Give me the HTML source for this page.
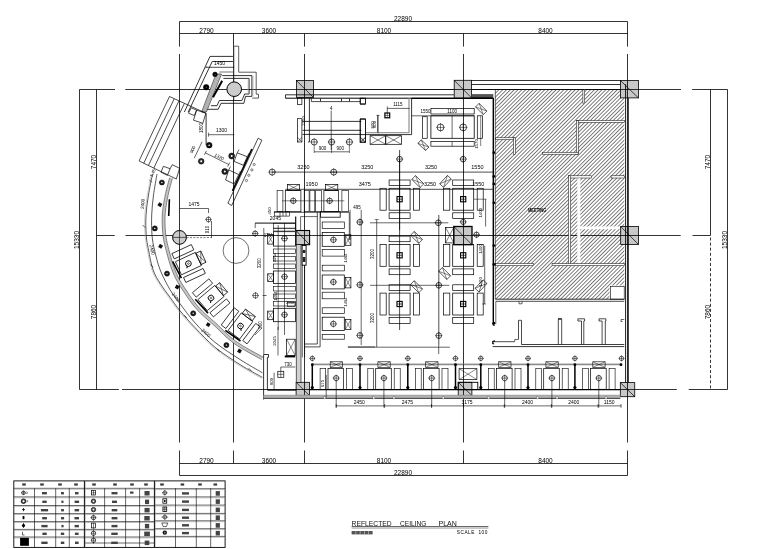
<!DOCTYPE html>
<html><head><meta charset="utf-8"><style>
html,body{margin:0;padding:0;background:#fff;width:760px;height:549px;overflow:hidden}
svg{display:block;filter:grayscale(100%)}
text{font-family:"Liberation Sans",sans-serif}
</style></head><body>
<svg width="760" height="549" viewBox="0 0 760 549">
<defs>
<pattern id="hatch" patternUnits="userSpaceOnUse" width="2.7" height="2.7" patternTransform="rotate(45)">
<line x1="0" y1="0" x2="0" y2="2.7" stroke="#000" stroke-width="1.0"/>
</pattern>
</defs>
<rect width="760" height="549" fill="#fff"/>
<path d="M495.3,89.5 L624.3,89.5 L624.3,285.5 L609.5,285.5 L609.5,299.2 L495.3,299.2 Z" fill="url(#hatch)" stroke="none"/>
<rect x="296.4" y="80.5" width="17.10" height="17.00" fill="#c8c8c8" stroke="#000" stroke-width="0.8"/>
<line x1="296.4" y1="80.5" x2="313.5" y2="97.5" stroke="#000" stroke-width="0.7" />
<rect x="454.2" y="80.3" width="17.40" height="17.70" fill="#c8c8c8" stroke="#000" stroke-width="0.8"/>
<line x1="454.2" y1="80.3" x2="471.6" y2="98" stroke="#000" stroke-width="0.7" />
<rect x="620.4" y="80.5" width="18.00" height="17.40" fill="#c8c8c8" stroke="#000" stroke-width="0.8"/>
<line x1="620.4" y1="80.5" x2="638.4" y2="97.9" stroke="#000" stroke-width="0.7" />
<rect x="296" y="230.5" width="13.60" height="14.20" fill="#c8c8c8" stroke="#000" stroke-width="1.1"/>
<line x1="296" y1="230.5" x2="309.6" y2="244.7" stroke="#000" stroke-width="0.7" />
<rect x="453.8" y="226.5" width="18.20" height="18.20" fill="#c8c8c8" stroke="#000" stroke-width="1.3"/>
<line x1="453.8" y1="226.5" x2="472" y2="244.7" stroke="#000" stroke-width="0.7" />
<rect x="620.7" y="226.5" width="17.80" height="18.00" fill="#c8c8c8" stroke="#000" stroke-width="0.8"/>
<line x1="620.7" y1="226.5" x2="638.5" y2="244.5" stroke="#000" stroke-width="0.7" />
<rect x="296.1" y="382.3" width="13.40" height="13.40" fill="#c8c8c8" stroke="#000" stroke-width="0.8"/>
<line x1="296.1" y1="382.3" x2="309.5" y2="395.7" stroke="#000" stroke-width="0.7" />
<rect x="458.2" y="382.3" width="13.70" height="13.20" fill="#c8c8c8" stroke="#000" stroke-width="0.8"/>
<line x1="458.2" y1="382.3" x2="471.9" y2="395.5" stroke="#000" stroke-width="0.7" />
<rect x="458.2" y="382.3" width="19.6" height="7.3" fill="none" stroke="#000" stroke-width="0.9"/>
<rect x="620.3" y="382.6" width="14.45" height="14.10" fill="#c8c8c8" stroke="#000" stroke-width="0.8"/>
<line x1="620.3" y1="382.6" x2="634.75" y2="396.7" stroke="#000" stroke-width="0.7" />
<line x1="179.5" y1="21.5" x2="179.5" y2="46.6" stroke="#000" stroke-width="0.8" />
<line x1="179.5" y1="54" x2="179.5" y2="442.5" stroke="#000" stroke-width="0.8" />
<line x1="179.5" y1="450.5" x2="179.5" y2="475.5" stroke="#000" stroke-width="0.8" />
<line x1="233.5" y1="33.5" x2="233.5" y2="442.5" stroke="#000" stroke-width="0.8" />
<line x1="233.5" y1="450.5" x2="233.5" y2="463.5" stroke="#000" stroke-width="0.8" />
<line x1="304.5" y1="33.5" x2="304.5" y2="46.6" stroke="#000" stroke-width="0.8" />
<line x1="304.5" y1="54" x2="304.5" y2="442.5" stroke="#000" stroke-width="0.8" />
<line x1="304.5" y1="450.5" x2="304.5" y2="463.5" stroke="#000" stroke-width="0.8" />
<line x1="463.5" y1="33.5" x2="463.5" y2="46.6" stroke="#000" stroke-width="0.8" />
<line x1="463.5" y1="54" x2="463.5" y2="442.5" stroke="#000" stroke-width="0.8" />
<line x1="463.5" y1="450.5" x2="463.5" y2="463.5" stroke="#000" stroke-width="0.8" />
<line x1="627.5" y1="21.5" x2="627.5" y2="46.6" stroke="#000" stroke-width="0.8" />
<line x1="627.5" y1="54" x2="627.5" y2="442.5" stroke="#000" stroke-width="0.8" />
<line x1="627.5" y1="450.5" x2="627.5" y2="475.5" stroke="#000" stroke-width="0.8" />
<line x1="79.5" y1="89.5" x2="115" y2="89.5" stroke="#000" stroke-width="0.8" />
<line x1="125.3" y1="89.5" x2="681" y2="89.5" stroke="#000" stroke-width="0.8" />
<line x1="692.1" y1="89.5" x2="727.5" y2="89.5" stroke="#000" stroke-width="0.8" />
<line x1="96.5" y1="235.5" x2="114.7" y2="235.5" stroke="#000" stroke-width="0.8" />
<line x1="125.5" y1="235.5" x2="680.7" y2="235.5" stroke="#000" stroke-width="0.8" />
<line x1="692.5" y1="235.5" x2="710.5" y2="235.5" stroke="#000" stroke-width="0.8" />
<line x1="79.5" y1="389.5" x2="118.9" y2="389.5" stroke="#000" stroke-width="0.8" />
<line x1="122" y1="389.5" x2="676.8" y2="389.5" stroke="#000" stroke-width="0.8" />
<line x1="688.7" y1="389.5" x2="727.5" y2="389.5" stroke="#000" stroke-width="0.8" />
<line x1="179.5" y1="21.5" x2="627.5" y2="21.5" stroke="#000" stroke-width="0.8" />
<line x1="179.5" y1="33.5" x2="627.5" y2="33.5" stroke="#000" stroke-width="0.8" />
<line x1="179.5" y1="463.5" x2="627.5" y2="463.5" stroke="#000" stroke-width="0.8" />
<line x1="179.5" y1="475.5" x2="627.5" y2="475.5" stroke="#000" stroke-width="0.8" />
<line x1="79.5" y1="89.5" x2="79.5" y2="389.5" stroke="#000" stroke-width="0.8" />
<line x1="96.5" y1="89.5" x2="96.5" y2="389.5" stroke="#000" stroke-width="0.8" />
<line x1="727.5" y1="89.5" x2="727.5" y2="389.5" stroke="#000" stroke-width="0.8" />
<line x1="710.5" y1="89.5" x2="710.5" y2="235.5" stroke="#000" stroke-width="0.8" />
<line x1="710.5" y1="237.5" x2="710.5" y2="389.5" stroke="#000" stroke-width="0.8" stroke-dasharray="3,2.1"/>
<text x="206.5" y="32.8" font-size="6.5" text-anchor="middle" fill="#000" >2790</text>
<text x="269" y="32.8" font-size="6.5" text-anchor="middle" fill="#000" >3600</text>
<text x="384" y="32.8" font-size="6.5" text-anchor="middle" fill="#000" >8100</text>
<text x="545.5" y="32.8" font-size="6.5" text-anchor="middle" fill="#000" >8400</text>
<text x="206.5" y="462.5" font-size="6.5" text-anchor="middle" fill="#000" >2790</text>
<text x="269" y="462.5" font-size="6.5" text-anchor="middle" fill="#000" >3600</text>
<text x="384" y="462.5" font-size="6.5" text-anchor="middle" fill="#000" >8100</text>
<text x="545.5" y="462.5" font-size="6.5" text-anchor="middle" fill="#000" >8400</text>
<text x="403" y="20.5" font-size="6.5" text-anchor="middle" fill="#000" >22890</text>
<text x="403" y="474.5" font-size="6.5" text-anchor="middle" fill="#000" >22890</text>
<text x="95.8" y="162" font-size="6.5" text-anchor="middle" fill="#000" transform="rotate(-90 95.8 162)" >7470</text>
<text x="78.9" y="240" font-size="6.5" text-anchor="middle" fill="#000" transform="rotate(-90 78.9 240)" >15330</text>
<text x="95.8" y="312" font-size="6.5" text-anchor="middle" fill="#000" transform="rotate(-90 95.8 312)" >7860</text>
<text x="710.1" y="162" font-size="6.5" text-anchor="middle" fill="#000" transform="rotate(-90 710.1 162)" >7470</text>
<text x="727.0" y="240" font-size="6.5" text-anchor="middle" fill="#000" transform="rotate(-90 727.0 240)" >15330</text>
<text x="710.1" y="312" font-size="6.5" text-anchor="middle" fill="#000" transform="rotate(-90 710.1 312)" >7860</text>
<polyline points="233.9,46.2 238.7,46.2 238.7,72.2 256.2,72.2 256.2,94.2 258.5,94.2 258.5,98.1 252.3,98.1" fill="none" stroke="#333" stroke-width="0.8"/>
<line x1="234.6" y1="46.5" x2="234.6" y2="100" stroke="#999" stroke-width="0.5" />
<rect x="219.4" y="71.2" width="13.6" height="1.6" fill="#aaa"/>
<polyline points="222.2,75.6 251.9,75.6 251.9,96.4 245.5,96.4 243.9,103.3 221,103.3 218.2,109.3 205,109.3" fill="none" stroke="#000" stroke-width="0.8"/>
<line x1="253" y1="75.6" x2="253" y2="96.4" stroke="#999" stroke-width="0.6" />
<polyline points="223.4,78.4 249.1,78.4 249.1,94 244.7,94 241.9,100.5 219.4,100.5 217,105.7 211,105.7" fill="none" stroke="#000" stroke-width="0.8"/>
<line x1="248.2" y1="78.4" x2="248.2" y2="94" stroke="#999" stroke-width="0.6" />
<circle cx="234.2" cy="89.2" r="7.3" fill="#ccc" stroke="#000" stroke-width="1"/>
<polygon points="216,74 221.5,74 206.4,112 201.6,112" fill="#d4d4d4" stroke="#000" stroke-width="0.55"/>
<polyline points="217.375,74 202.79999999999998,112" fill="none" stroke="#555" stroke-width="0.35"/>
<polyline points="218.75,74 204.0,112" fill="none" stroke="#555" stroke-width="0.35"/>
<polyline points="220.125,74 205.2,112" fill="none" stroke="#555" stroke-width="0.35"/>
<line x1="222.2" y1="80.8" x2="213" y2="97.2" stroke="#000" stroke-width="2" />
<circle cx="215" cy="74.4" r="2.3" fill="#000" stroke="#000" stroke-width="0.5"/>
<circle cx="206.2" cy="87.2" r="2.8" fill="#000" stroke="#000" stroke-width="0.5"/>
<circle cx="215" cy="74.4" r="0.35" fill="#fff"/><circle cx="206.2" cy="87.2" r="0.4" fill="#fff"/>
<polyline points="232.9,56.4 210,56.4 184.4,112" fill="none" stroke="#000" stroke-width="0.8"/>
<polyline points="232.9,61.5 212.2,61.5 188.2,112" fill="none" stroke="#000" stroke-width="0.8"/>
<line x1="206.2" y1="67.3" x2="234.2" y2="67.3" stroke="#000" stroke-width="0.7" />
<line x1="205.4" y1="68.3" x2="207" y2="66.3" stroke="#000" stroke-width="0.6" />
<text x="219.5" y="64.8" font-size="5" text-anchor="middle" fill="#000" >1450</text>
<path d="M152.50,174.00 C151.83,177.50 149.58,188.17 148.50,195.00 C147.42,201.83 146.38,208.33 146.00,215.00 C145.62,221.67 145.78,229.17 146.20,235.00 C146.62,240.83 147.35,244.17 148.50,250.00 C149.65,255.83 151.10,264.33 153.10,270.00 C155.10,275.67 157.68,279.45 160.50,284.00 C163.32,288.55 166.75,292.83 170.00,297.30 C173.25,301.77 175.83,305.75 180.00,310.80 C184.17,315.85 189.17,321.52 195.00,327.60 C200.83,333.68 207.50,341.13 215.00,347.30 C222.50,353.47 232.10,359.58 240.00,364.60 C247.90,369.62 258.67,375.27 262.40,377.40" fill="none" stroke="#222" stroke-width="0.75"/>
<path d="M151.42,173.79 L151.10,175.41 L150.67,177.58 L150.15,180.17 L149.58,183.04 L148.99,186.07 L148.41,189.13 L147.87,192.09 L147.41,194.82 L147.01,197.38 L146.62,199.91 L146.25,202.42 L145.90,204.92 L145.58,207.41 L145.31,209.91 L145.08,212.42 L144.90,214.94 L144.78,217.49 L144.71,220.10 L144.68,222.72 L144.70,225.33 L144.75,227.90 L144.84,230.40 L144.96,232.80 L145.10,235.08 L145.28,237.18 L145.48,239.11 L145.72,240.93 L145.99,242.68 L146.29,244.43 L146.63,246.22 L147.01,248.13 L147.42,250.21 L147.87,252.51 L148.34,255.00 L148.86,257.61 L149.41,260.29 L150.00,262.97 L150.63,265.58 L151.32,268.07 L152.06,270.36 L152.86,272.46 L153.71,274.40 L154.60,276.22 L155.53,277.96 L156.50,279.63 L157.50,281.27 L158.52,282.91 L159.57,284.59 L160.66,286.30 L161.81,287.99 L162.99,289.67 L164.20,291.33 L165.43,292.99 L166.66,294.64 L167.89,296.29 L169.11,297.95 L170.30,299.60 L171.45,301.22 L172.60,302.84 L173.76,304.47 L174.98,306.14 L176.26,307.86 L177.65,309.64 L179.15,311.50 L180.76,313.43 L182.45,315.42 L184.21,317.45 L186.05,319.54 L187.97,321.68 L189.97,323.87 L192.05,326.09 L194.20,328.36 L196.43,330.70 L198.73,333.13 L201.12,335.64 L203.59,338.19 L206.14,340.75 L208.78,343.28 L211.50,345.76 L214.30,348.15 L217.23,350.48 L220.31,352.79 L223.49,355.06 L226.73,357.29 L229.99,359.47 L233.22,361.57 L236.37,363.60 L239.42,365.53 L242.51,367.44 L245.75,369.37 L249.03,371.25 L252.23,373.04 L255.22,374.70 L257.91,376.17 L260.16,377.41 L261.86,378.36" fill="none" stroke="#999" stroke-width="0.5"/>
<path d="M157.00,174.00 C156.42,177.50 154.38,188.17 153.50,195.00 C152.62,201.83 151.95,208.33 151.70,215.00 C151.45,221.67 151.53,229.17 152.00,235.00 C152.47,240.83 153.13,244.17 154.50,250.00 C155.87,255.83 157.62,263.40 160.20,270.00 C162.78,276.60 166.70,283.98 170.00,289.60 C173.30,295.22 175.83,298.17 180.00,303.70 C184.17,309.23 189.17,316.37 195.00,322.80 C200.83,329.23 207.50,336.18 215.00,342.30 C222.50,348.42 232.10,354.42 240.00,359.50 C247.90,364.58 258.67,370.58 262.40,372.80" fill="none" stroke="#222" stroke-width="0.75"/>
<path d="M171.00,178.00 L170.66,179.29 L170.20,180.98 L169.65,183.00 L169.04,185.25 L168.41,187.66 L167.78,190.14 L167.20,192.62 L166.70,195.00 L166.24,197.36 L165.77,199.79 L165.32,202.28 L164.89,204.81 L164.50,207.37 L164.16,209.93 L163.89,212.48 L163.70,215.00 L163.59,217.53 L163.56,220.12 L163.59,222.72 L163.67,225.31 L163.80,227.87 L163.97,230.35 L164.17,232.74 L164.40,235.00 L164.65,237.08 L164.94,238.98 L165.26,240.77 L165.62,242.50 L166.02,244.23 L166.46,246.02 L166.96,247.92 L167.50,250.00 L168.10,252.29 L168.75,254.75 L169.45,257.33 L170.20,259.97 L170.98,262.61 L171.80,265.20 L172.64,267.68 L173.50,270.00 L174.34,272.11 L175.16,274.03 L175.98,275.85 L176.84,277.61 L177.78,279.39 L178.82,281.26 L180.02,283.27 L181.40,285.50 L182.98,287.99 L184.75,290.71 L186.66,293.58 L188.68,296.53 L190.78,299.49 L192.92,302.39 L195.08,305.15 L197.20,307.70 L199.31,310.03 L201.46,312.21 L203.63,314.27 L205.84,316.26 L208.08,318.21 L210.35,320.18 L212.66,322.19 L215.00,324.30 L217.34,326.51 L219.67,328.77 L222.01,331.07 L224.40,333.39 L226.86,335.70 L229.43,337.99 L232.13,340.23 L235.00,342.40 L238.26,344.61 L241.97,346.92 L245.94,349.26 L249.95,351.53 L253.81,353.66 L257.30,355.57 L260.24,357.18 L262.40,358.40" fill="none" stroke="#cfcfcf" stroke-width="2.6"/>
<path d="M172.35,178.36 L172.01,179.65 L171.55,181.35 L171.00,183.37 L170.39,185.61 L169.76,188.01 L169.14,190.47 L168.57,192.92 L168.07,195.28 L167.61,197.62 L167.15,200.05 L166.70,202.52 L166.27,205.04 L165.88,207.57 L165.55,210.10 L165.28,212.61 L165.10,215.08 L164.99,217.57 L164.96,220.12 L164.99,222.69 L165.07,225.25 L165.20,227.78 L165.37,230.24 L165.57,232.61 L165.79,234.85 L166.04,236.89 L166.32,238.76 L166.63,240.51 L166.99,242.20 L167.38,243.90 L167.82,245.67 L168.31,247.57 L168.85,249.65 L169.45,251.94 L170.10,254.39 L170.80,256.96 L171.54,259.58 L172.32,262.20 L173.13,264.76 L173.96,267.21 L174.81,269.50 L175.64,271.58 L176.44,273.47 L177.24,275.25 L178.09,276.98 L179.00,278.72 L180.04,280.56 L181.22,282.55 L182.59,284.76 L184.16,287.24 L185.92,289.94 L187.82,292.80 L189.83,295.73 L191.92,298.67 L194.04,301.54 L196.17,304.27 L198.26,306.78 L200.33,309.07 L202.44,311.21 L204.58,313.24 L206.77,315.21 L208.99,317.15 L211.27,319.12 L213.58,321.14 L215.95,323.27 L218.31,325.49 L220.65,327.77 L222.99,330.07 L225.37,332.38 L227.81,334.67 L230.34,336.93 L233.00,339.13 L235.81,341.26 L239.02,343.44 L242.70,345.72 L246.64,348.04 L250.63,350.31 L254.48,352.44 L257.97,354.35 L260.91,355.96 L263.09,357.18" fill="none" stroke="#333" stroke-width="0.6"/>
<path d="M169.65,177.64 L169.31,178.93 L168.85,180.61 L168.29,182.63 L167.68,184.89 L167.05,187.31 L166.42,189.81 L165.84,192.31 L165.33,194.72 L164.86,197.09 L164.40,199.53 L163.94,202.04 L163.51,204.59 L163.11,207.17 L162.77,209.76 L162.49,212.35 L162.30,214.92 L162.19,217.50 L162.16,220.12 L162.19,222.75 L162.27,225.37 L162.40,227.95 L162.57,230.46 L162.78,232.87 L163.01,235.15 L163.27,237.27 L163.56,239.21 L163.88,241.04 L164.25,242.80 L164.66,244.56 L165.11,246.36 L165.60,248.27 L166.15,250.35 L166.74,252.65 L167.40,255.12 L168.11,257.71 L168.86,260.36 L169.64,263.02 L170.47,265.63 L171.32,268.15 L172.19,270.50 L173.05,272.64 L173.87,274.59 L174.71,276.44 L175.59,278.25 L176.55,280.06 L177.61,281.96 L178.82,284.00 L180.21,286.24 L181.81,288.75 L183.58,291.48 L185.50,294.36 L187.53,297.33 L189.65,300.31 L191.81,303.23 L193.98,306.02 L196.14,308.62 L198.30,310.99 L200.48,313.21 L202.68,315.30 L204.91,317.30 L207.16,319.27 L209.43,321.23 L211.73,323.24 L214.05,325.33 L216.38,327.52 L218.69,329.77 L221.04,332.07 L223.43,334.40 L225.92,336.73 L228.52,339.05 L231.26,341.33 L234.19,343.54 L237.50,345.78 L241.25,348.12 L245.24,350.47 L249.27,352.75 L253.13,354.89 L256.63,356.80 L259.56,358.40 L261.71,359.62" fill="none" stroke="#333" stroke-width="0.6"/>
<path d="M171.00,178.00 L170.66,179.29 L170.20,180.98 L169.65,183.00 L169.04,185.25 L168.41,187.66 L167.78,190.14 L167.20,192.62 L166.70,195.00 L166.24,197.36 L165.77,199.79 L165.32,202.28 L164.89,204.81 L164.50,207.37 L164.16,209.93 L163.89,212.48 L163.70,215.00 L163.59,217.53 L163.56,220.12 L163.59,222.72 L163.67,225.31 L163.80,227.87 L163.97,230.35 L164.17,232.74 L164.40,235.00 L164.65,237.08 L164.94,238.98 L165.26,240.77 L165.62,242.50 L166.02,244.23 L166.46,246.02 L166.96,247.92 L167.50,250.00 L168.10,252.29 L168.75,254.75 L169.45,257.33 L170.20,259.97 L170.98,262.61 L171.80,265.20 L172.64,267.68 L173.50,270.00 L174.34,272.11 L175.16,274.03 L175.98,275.85 L176.84,277.61 L177.78,279.39 L178.82,281.26 L180.02,283.27 L181.40,285.50 L182.98,287.99 L184.75,290.71 L186.66,293.58 L188.68,296.53 L190.78,299.49 L192.92,302.39 L195.08,305.15 L197.20,307.70 L199.31,310.03 L201.46,312.21 L203.63,314.27 L205.84,316.26 L208.08,318.21 L210.35,320.18 L212.66,322.19 L215.00,324.30 L217.34,326.51 L219.67,328.77 L222.01,331.07 L224.40,333.39 L226.86,335.70 L229.43,337.99 L232.13,340.23 L235.00,342.40 L238.26,344.61 L241.97,346.92 L245.94,349.26 L249.95,351.53 L253.81,353.66 L257.30,355.57 L260.24,357.18 L262.40,358.40" fill="none" stroke="#888" stroke-width="0.4" stroke-dasharray="0.8,0.8"/>
<line x1="149.30" y1="179.70" x2="151.90" y2="182.30" stroke="#000" stroke-width="0.6"/>
<line x1="142.60" y1="225.00" x2="145.20" y2="227.60" stroke="#000" stroke-width="0.6"/>
<line x1="150.70" y1="264.70" x2="153.30" y2="267.30" stroke="#000" stroke-width="0.6"/>
<line x1="184.20" y1="315.20" x2="186.80" y2="317.80" stroke="#000" stroke-width="0.6"/>
<line x1="217.30" y1="348.90" x2="219.90" y2="351.50" stroke="#000" stroke-width="0.6"/>
<line x1="248.70" y1="368.20" x2="251.30" y2="370.80" stroke="#000" stroke-width="0.6"/>
<text x="144.3" y="204" font-size="4.6" text-anchor="middle" fill="#000" transform="rotate(-84 144.3 204)" >2400</text>
<text x="150.6" y="250" font-size="4.6" text-anchor="middle" fill="#000" transform="rotate(78 150.6 250)" >2400</text>
<text x="174.5" y="298" font-size="4.6" text-anchor="middle" fill="#000" transform="rotate(55 174.5 298)" >2400</text>
<text x="205" y="334" font-size="4.6" text-anchor="middle" fill="#000" transform="rotate(40 205 334)" >2400</text>
<text x="154" y="173.5" font-size="4.2" text-anchor="middle" fill="#000" transform="rotate(-65 154 173.5)" >1.45</text>
<circle cx="161.9" cy="182.5" r="2.6" fill="#1a1a1a" stroke="#000" stroke-width="0.4"/>
<circle cx="161.9" cy="182.5" r="0.7" fill="#fff"/>
<circle cx="154.8" cy="228.4" r="2.6" fill="#1a1a1a" stroke="#000" stroke-width="0.4"/>
<circle cx="154.8" cy="228.4" r="0.7" fill="#fff"/>
<circle cx="167" cy="273.6" r="2.6" fill="#1a1a1a" stroke="#000" stroke-width="0.4"/>
<circle cx="167" cy="273.6" r="0.7" fill="#fff"/>
<circle cx="193.2" cy="313.3" r="2.6" fill="#1a1a1a" stroke="#000" stroke-width="0.4"/>
<circle cx="193.2" cy="313.3" r="0.7" fill="#fff"/>
<circle cx="226.4" cy="345.1" r="2.6" fill="#1a1a1a" stroke="#000" stroke-width="0.4"/>
<circle cx="226.4" cy="345.1" r="0.7" fill="#fff"/>
<rect x="158.1" y="202.89999999999998" width="3.6" height="3.6" fill="#111" transform="rotate(30 159.9 204.7)"/>
<rect x="158.79999999999998" y="244.5" width="3.6" height="3.6" fill="#111" transform="rotate(30 160.6 246.3)"/>
<rect x="175.39999999999998" y="285.2" width="3.6" height="3.6" fill="#111" transform="rotate(30 177.2 287)"/>
<rect x="206.39999999999998" y="322.8" width="3.6" height="3.6" fill="#111" transform="rotate(30 208.2 324.6)"/>
<rect x="237.7" y="349.2" width="3.6" height="3.6" fill="#111" transform="rotate(30 239.5 351)"/>
<line x1="169.4" y1="199.2" x2="168.7" y2="216" stroke="#000" stroke-width="1.6" />
<line x1="172.6" y1="261.3" x2="181.4" y2="278.1" stroke="#000" stroke-width="1.6" />
<line x1="195.3" y1="299.2" x2="208" y2="313.1" stroke="#000" stroke-width="1.6" />
<line x1="225.3" y1="330.4" x2="240.5" y2="341" stroke="#000" stroke-width="1.6" />
<g transform="translate(188.4,263.6) rotate(-25)" fill="none" stroke="#000" stroke-width="0.7"><rect x="-11" y="-7.2" width="22" height="14.4"/><rect x="-10.8" y="-16" width="21.5" height="5.8"/><rect x="-10.3" y="10.6" width="21.5" height="5.4"/><rect x="11" y="-6.2" width="5.5" height="12.4"/><path d="M11,-6.2 L16.5,6.2 M16.5,-6.2 L11,6.2" stroke-width="0.5"/><circle cx="0" cy="0" r="2.8" stroke-width="0.9"/><circle cx="0" cy="0" r="0.9" stroke-width="0.5"/><path d="M-2,2 L-3.5,3.5" stroke-width="1"/></g>
<g transform="translate(211.0,298.0) rotate(-40)" fill="none" stroke="#000" stroke-width="0.7"><rect x="-11" y="-7.2" width="22" height="14.4"/><rect x="-10.8" y="-16" width="21.5" height="5.8"/><rect x="-10.3" y="10.6" width="21.5" height="5.4"/><rect x="11" y="-6.2" width="5.5" height="12.4"/><path d="M11,-6.2 L16.5,6.2 M16.5,-6.2 L11,6.2" stroke-width="0.5"/><circle cx="0" cy="0" r="2.8" stroke-width="0.9"/><circle cx="0" cy="0" r="0.9" stroke-width="0.5"/><path d="M-2,2 L-3.5,3.5" stroke-width="1"/></g>
<g transform="translate(240.5,326.0) rotate(-53)" fill="none" stroke="#000" stroke-width="0.7"><rect x="-11" y="-7.2" width="22" height="14.4"/><rect x="-10.8" y="-16" width="21.5" height="5.8"/><rect x="-10.3" y="10.6" width="21.5" height="5.4"/><rect x="11" y="-6.2" width="5.5" height="12.4"/><path d="M11,-6.2 L16.5,6.2 M16.5,-6.2 L11,6.2" stroke-width="0.5"/><circle cx="0" cy="0" r="2.8" stroke-width="0.9"/><circle cx="0" cy="0" r="0.9" stroke-width="0.5"/><path d="M-2,2 L-3.5,3.5" stroke-width="1"/></g>
<circle cx="179.5" cy="237.4" r="6.9" fill="#ccc" stroke="#000" stroke-width="1"/>
<line x1="172.6" y1="237.4" x2="186.4" y2="237.4" stroke="#000" stroke-width="0.6" />
<line x1="179.5" y1="230.5" x2="179.5" y2="244.3" stroke="#000" stroke-width="0.6" />
<circle cx="236" cy="250.5" r="12.9" fill="none" stroke="#333" stroke-width="0.7"/>
<line x1="169.5" y1="96.5" x2="139.05" y2="160.96" stroke="#000" stroke-width="0.7" />
<line x1="174.2" y1="98.72" x2="143.76" y2="163.18" stroke="#000" stroke-width="0.7" />
<line x1="178.9" y1="100.94" x2="148.46" y2="165.4" stroke="#000" stroke-width="0.7" />
<line x1="184.33" y1="103.5" x2="153.88" y2="167.96" stroke="#000" stroke-width="0.7" />
<line x1="169.5" y1="96.5" x2="205.9" y2="113.2" stroke="#000" stroke-width="0.7" />
<line x1="139.05" y1="160.96" x2="176.3" y2="179" stroke="#000" stroke-width="0.7" />
<polygon points="191.2,107.8 196.6,110.1 194.3,115.5 188.5,113.2" fill="none" stroke="#000" stroke-width="0.7"/>
<polygon points="196.6,110.1 205.9,113.2 202.8,123.3 193.5,120.2" fill="none" stroke="#000" stroke-width="0.7"/>
<polygon points="161,172.2 163.4,166.3 170.1,168.7 167.4,175.4" fill="none" stroke="#000" stroke-width="0.7"/>
<polyline points="170.1,168.7 172.3,164.7 179.6,168.3 176.3,179" fill="none" stroke="#000" stroke-width="0.7"/>
<line x1="206.1" y1="113.2" x2="206.1" y2="145" stroke="#000" stroke-width="0.8" />
<line x1="208.6" y1="134.7" x2="234.3" y2="134.7" stroke="#000" stroke-width="0.6" />
<line x1="208.6" y1="132.7" x2="208.6" y2="136.7" stroke="#000" stroke-width="0.6" />
<text x="221.5" y="132.2" font-size="5" text-anchor="middle" fill="#000" >1300</text>
<text x="203.2" y="128" font-size="4.5" text-anchor="middle" fill="#000" transform="rotate(-90 203.2 128)" >1800</text>
<line x1="202" y1="141.9" x2="194.3" y2="158.1" stroke="#000" stroke-width="0.6" />
<text x="194" y="150" font-size="4.5" text-anchor="middle" fill="#000" transform="rotate(-65 194 150)" >900</text>
<circle cx="209.2" cy="145.2" r="2.9" fill="#111" stroke="#000" stroke-width="0.4"/>
<circle cx="209.2" cy="145.2" r="0.8" fill="#fff"/>
<circle cx="201.2" cy="161.3" r="2.8" fill="#333" stroke="#000" stroke-width="0.6"/>
<circle cx="201.2" cy="161.3" r="1" fill="#fff"/>
<line x1="205.4" y1="152.9" x2="228.7" y2="164.5" stroke="#000" stroke-width="0.6" />
<line x1="204.4" y1="154.9" x2="206.4" y2="150.9" stroke="#000" stroke-width="0.6" />
<line x1="227.7" y1="166.5" x2="229.7" y2="162.5" stroke="#000" stroke-width="0.6" />
<text x="218.5" y="158.2" font-size="4.5" text-anchor="middle" fill="#000" transform="rotate(27 218.5 158.2)" >1320</text>
<line x1="179.6" y1="208.5" x2="208.5" y2="208.5" stroke="#000" stroke-width="0.6" />
<line x1="208.5" y1="208.5" x2="208.5" y2="213" stroke="#000" stroke-width="0.6" />
<text x="194" y="205.5" font-size="5" text-anchor="middle" fill="#000" >1475</text>
<text x="208.6" y="229.5" font-size="4.5" text-anchor="middle" fill="#000" transform="rotate(-90 208.6 229.5)" >910</text>
<circle cx="208.5" cy="219.5" r="2.4" fill="none" stroke="#000" stroke-width="0.6"/>
<line x1="205.29999999999998" y1="219.5" x2="211.70000000000002" y2="219.5" stroke="#000" stroke-width="0.5" />
<line x1="208.5" y1="216.29999999999998" x2="208.5" y2="222.70000000000002" stroke="#000" stroke-width="0.5" />
<line x1="211.5" y1="221" x2="211.5" y2="237.6" stroke="#000" stroke-width="0.6" />
<line x1="186.4" y1="237.6" x2="212" y2="237.6" stroke="#000" stroke-width="0.5" stroke-dasharray="2.2,1.2"/>
<line x1="471.6" y1="80.5" x2="620.4" y2="80.5" stroke="#000" stroke-width="0.8" />
<line x1="471.6" y1="84.5" x2="620.4" y2="84.5" stroke="#000" stroke-width="0.8" />
<line x1="313.5" y1="89.5" x2="454.2" y2="89.5" stroke="#000" stroke-width="0.6" />
<polyline points="285.5,94.8 454.2,94.8" fill="none" stroke="#000" stroke-width="0.8"/>
<polyline points="285.5,98.2 454.2,98.2" fill="none" stroke="#000" stroke-width="1.0"/>
<line x1="285.5" y1="94.8" x2="285.5" y2="98.2" stroke="#000" stroke-width="0.8" />
<line x1="471.6" y1="89.5" x2="620.4" y2="89.5" stroke="#000" stroke-width="0.8" />
<rect x="471.6" y="94.1" width="21.7" height="3.9" fill="#555"/>
<line x1="471.6" y1="98" x2="493.3" y2="98" stroke="#000" stroke-width="1" />
<rect x="297.5" y="98.2" width="4.4" height="6.2" fill="none" stroke="#000" stroke-width="0.7"/>
<rect x="360.6" y="98.2" width="4.8" height="6.2" fill="none" stroke="#000" stroke-width="0.7"/>
<polyline points="311.4,98.2 311.4,101.6 360.6,101.6" fill="none" stroke="#000" stroke-width="0.7"/>
<line x1="320.5" y1="98.6" x2="320.5" y2="101.4" stroke="#000" stroke-width="0.8" />
<line x1="341.5" y1="98.6" x2="341.5" y2="101.4" stroke="#000" stroke-width="0.8" />
<line x1="349.5" y1="98.6" x2="349.5" y2="101.4" stroke="#000" stroke-width="0.8" />
<line x1="309.4" y1="98.2" x2="309.4" y2="142" stroke="#000" stroke-width="0.8" />
<line x1="309.4" y1="142" x2="308" y2="142" stroke="#000" stroke-width="0.8" />
<line x1="331.2" y1="110.5" x2="331.2" y2="150" stroke="#000" stroke-width="0.6" />
<text x="331.2" y="109.5" font-size="4.5" text-anchor="middle" fill="#000" >4</text>
<line x1="302.5" y1="121.4" x2="361.3" y2="121.4" stroke="#000" stroke-width="0.8" />
<line x1="302.5" y1="130.3" x2="361.3" y2="130.3" stroke="#000" stroke-width="0.8" />
<line x1="302.5" y1="134.4" x2="361.3" y2="134.4" stroke="#000" stroke-width="0.8" />
<rect x="297.5" y="118.7" width="4.4" height="23.3" fill="none" stroke="#000" stroke-width="0.7"/>
<rect x="360.6" y="118.7" width="4.8" height="23.3" fill="none" stroke="#000" stroke-width="0.7"/>
<line x1="297.5" y1="137.2" x2="301.9" y2="142" stroke="#000" stroke-width="0.5" />
<line x1="297.5" y1="142" x2="301.9" y2="137.2" stroke="#000" stroke-width="0.5" />
<line x1="360.6" y1="137.2" x2="365.4" y2="142" stroke="#000" stroke-width="0.5" />
<line x1="360.6" y1="142" x2="365.4" y2="137.2" stroke="#000" stroke-width="0.5" />
<text x="305.3" y="121" font-size="4.3" text-anchor="middle" fill="#000" transform="rotate(-90 305.3 121)" >2250</text>
<circle cx="314.2" cy="142" r="3" fill="none" stroke="#000" stroke-width="0.7"/>
<line x1="310.4" y1="142" x2="318.0" y2="142" stroke="#000" stroke-width="0.5" />
<line x1="314.2" y1="138.2" x2="314.2" y2="145.8" stroke="#000" stroke-width="0.5" />
<line x1="314.2" y1="145.5" x2="314.2" y2="153" stroke="#000" stroke-width="0.5" />
<circle cx="331.6" cy="142" r="3" fill="none" stroke="#000" stroke-width="0.7"/>
<line x1="327.8" y1="142" x2="335.40000000000003" y2="142" stroke="#000" stroke-width="0.5" />
<line x1="331.6" y1="138.2" x2="331.6" y2="145.8" stroke="#000" stroke-width="0.5" />
<line x1="331.6" y1="145.5" x2="331.6" y2="153" stroke="#000" stroke-width="0.5" />
<circle cx="349.4" cy="142" r="3" fill="none" stroke="#000" stroke-width="0.7"/>
<line x1="345.59999999999997" y1="142" x2="353.2" y2="142" stroke="#000" stroke-width="0.5" />
<line x1="349.4" y1="138.2" x2="349.4" y2="145.8" stroke="#000" stroke-width="0.5" />
<line x1="349.4" y1="145.5" x2="349.4" y2="153" stroke="#000" stroke-width="0.5" />
<line x1="314.2" y1="151.8" x2="349.4" y2="151.8" stroke="#000" stroke-width="0.6" />
<text x="322.5" y="149.8" font-size="4.5" text-anchor="middle" fill="#000" >900</text>
<text x="340.3" y="149.8" font-size="4.5" text-anchor="middle" fill="#000" >900</text>
<line x1="377.7" y1="115.3" x2="377.7" y2="132.4" stroke="#000" stroke-width="0.6" />
<text x="374.5" y="124.9" font-size="4.3" text-anchor="middle" fill="#000" transform="rotate(-90 374.5 124.9)" >800</text>
<line x1="409" y1="98.2" x2="409" y2="132.7" stroke="#999" stroke-width="1.3" />
<line x1="411.6" y1="98.3" x2="411.6" y2="134.6" stroke="#000" stroke-width="0.8" />
<line x1="366" y1="132.6" x2="409.6" y2="132.6" stroke="#999" stroke-width="1.3" />
<line x1="360" y1="134.6" x2="411.6" y2="134.6" stroke="#000" stroke-width="0.8" />
<line x1="411.6" y1="98.4" x2="492.6" y2="98.4" stroke="#000" stroke-width="1.1" />
<rect x="384.9" y="113" width="4.8" height="4.8" fill="none" stroke="#000" stroke-width="1.2"/>
<line x1="384.9" y1="115.4" x2="389.7" y2="115.4" stroke="#000" stroke-width="0.5" />
<line x1="387.3" y1="113" x2="387.3" y2="117.8" stroke="#000" stroke-width="0.5" />
<line x1="387.3" y1="108.4" x2="409.7" y2="108.4" stroke="#000" stroke-width="0.6" />
<line x1="387.3" y1="106.4" x2="387.3" y2="113" stroke="#000" stroke-width="0.6" />
<text x="397.8" y="106.3" font-size="4.5" text-anchor="middle" fill="#000" >1115</text>
<line x1="378" y1="115.4" x2="378" y2="133.3" stroke="#000" stroke-width="0.6" />
<line x1="376.5" y1="115.4" x2="379.5" y2="115.4" stroke="#000" stroke-width="0.6" />
<text x="375.5" y="124.5" font-size="4.3" text-anchor="middle" fill="#000" transform="rotate(-90 375.5 124.5)" >800</text>
<rect x="370.1" y="135.7" width="15.6" height="8.6" fill="none" stroke="#000" stroke-width="0.7"/>
<line x1="370.1" y1="135.7" x2="385.70000000000005" y2="144.3" stroke="#000" stroke-width="0.5" />
<line x1="370.1" y1="144.3" x2="385.70000000000005" y2="135.7" stroke="#000" stroke-width="0.5" />
<rect x="385.8" y="135.7" width="15.6" height="8.6" fill="none" stroke="#000" stroke-width="0.7"/>
<line x1="385.8" y1="135.7" x2="401.40000000000003" y2="144.3" stroke="#000" stroke-width="0.5" />
<line x1="385.8" y1="144.3" x2="401.40000000000003" y2="135.7" stroke="#000" stroke-width="0.5" />
<rect x="360" y="119.5" width="5.5" height="23" fill="none" stroke="#000" stroke-width="0.7"/>
<line x1="360" y1="137.5" x2="365.5" y2="142.5" stroke="#000" stroke-width="0.5" />
<line x1="360" y1="142.5" x2="365.5" y2="137.5" stroke="#000" stroke-width="0.5" />
<rect x="360" y="98.2" width="5.5" height="5.5" fill="none" stroke="#000" stroke-width="0.6"/>
<rect x="430.9" y="108.4" width="43.3" height="5.6" fill="none" stroke="#000" stroke-width="0.7"/>
<line x1="411.6" y1="115.8" x2="474.2" y2="115.8" stroke="#000" stroke-width="0.6" />
<text x="425.4" y="113.2" font-size="4.5" text-anchor="middle" fill="#000" >1550</text>
<text x="452.1" y="113.2" font-size="4.5" text-anchor="middle" fill="#000" >1100</text>
<rect x="430.9" y="115.8" width="43.3" height="22.5" fill="none" stroke="#000" stroke-width="0.8"/>
<line x1="452.1" y1="115.8" x2="452.1" y2="138.3" stroke="#000" stroke-width="0.6" />
<circle cx="440.5" cy="127.4" r="3.4" fill="none" stroke="#000" stroke-width="0.7"/>
<line x1="436.3" y1="127.4" x2="444.7" y2="127.4" stroke="#000" stroke-width="0.5" />
<line x1="440.5" y1="123.2" x2="440.5" y2="131.60000000000002" stroke="#000" stroke-width="0.5" />
<circle cx="463.2" cy="127.4" r="3.4" fill="none" stroke="#000" stroke-width="0.7"/>
<line x1="459.0" y1="127.4" x2="467.4" y2="127.4" stroke="#000" stroke-width="0.5" />
<line x1="463.2" y1="123.2" x2="463.2" y2="131.60000000000002" stroke="#000" stroke-width="0.5" />
<rect x="422.6" y="116.7" width="4.6" height="21.6" fill="none" stroke="#000" stroke-width="0.7"/>
<rect x="477.3" y="115.8" width="5.2" height="22.5" fill="none" stroke="#000" stroke-width="0.7"/>
<rect x="430.9" y="141.6" width="43.3" height="4.6" fill="none" stroke="#000" stroke-width="0.7"/>
<line x1="452.1" y1="141.6" x2="452.1" y2="146.2" stroke="#000" stroke-width="0.6" />
<g transform="translate(423.4,145.2) rotate(43)"><rect x="-5.25" y="-2.415" width="10.5" height="4.83" fill="none" stroke="#000" stroke-width="0.6"/><path d="M-5.25,-2.415 L5.25,2.415 M5.25,-2.415 L-5.25,2.415" stroke="#000" stroke-width="0.45"/></g>
<g transform="translate(481.2,109) rotate(45)"><rect x="-5.45" y="-2.507" width="10.9" height="5.014" fill="none" stroke="#000" stroke-width="0.6"/><path d="M-5.45,-2.507 L5.45,2.507 M5.45,-2.507 L-5.45,2.507" stroke="#000" stroke-width="0.45"/></g>
<line x1="480.7" y1="115.8" x2="480.7" y2="146" stroke="#000" stroke-width="0.5" />
<text x="478" y="144" font-size="4.3" text-anchor="middle" fill="#000" transform="rotate(-90 478 144)" >1570</text>
<circle cx="399.6" cy="159.1" r="2.8" fill="none" stroke="#000" stroke-width="0.7"/>
<line x1="396.0" y1="159.1" x2="403.20000000000005" y2="159.1" stroke="#000" stroke-width="0.5" />
<line x1="399.6" y1="155.49999999999997" x2="399.6" y2="162.70000000000002" stroke="#000" stroke-width="0.5" />
<circle cx="463.2" cy="159.1" r="2.8" fill="none" stroke="#000" stroke-width="0.7"/>
<line x1="459.59999999999997" y1="159.1" x2="466.8" y2="159.1" stroke="#000" stroke-width="0.5" />
<line x1="463.2" y1="155.49999999999997" x2="463.2" y2="162.70000000000002" stroke="#000" stroke-width="0.5" />
<line x1="399.6" y1="150" x2="399.6" y2="230" stroke="#000" stroke-width="0.7" />
<line x1="272.2" y1="172.1" x2="493.8" y2="172.1" stroke="#000" stroke-width="0.7" />
<circle cx="272.2" cy="172.1" r="3" fill="none" stroke="#000" stroke-width="0.7"/>
<line x1="268.4" y1="172.1" x2="276.0" y2="172.1" stroke="#000" stroke-width="0.5" />
<line x1="272.2" y1="168.29999999999998" x2="272.2" y2="175.9" stroke="#000" stroke-width="0.5" />
<circle cx="333.7" cy="172.1" r="3" fill="none" stroke="#000" stroke-width="0.7"/>
<line x1="329.9" y1="172.1" x2="337.5" y2="172.1" stroke="#000" stroke-width="0.5" />
<line x1="333.7" y1="168.29999999999998" x2="333.7" y2="175.9" stroke="#000" stroke-width="0.5" />
<text x="303.4" y="168.5" font-size="5.5" text-anchor="middle" fill="#000" >3250</text>
<text x="367.3" y="168.5" font-size="5.5" text-anchor="middle" fill="#000" >3250</text>
<text x="431" y="168.5" font-size="5.5" text-anchor="middle" fill="#000" >3250</text>
<text x="477.4" y="168.5" font-size="5.5" text-anchor="middle" fill="#000" >1550</text>
<line x1="285.3" y1="189.3" x2="493.8" y2="189.3" stroke="#000" stroke-width="0.7" />
<text x="311.6" y="186" font-size="5.5" text-anchor="middle" fill="#000" >1950</text>
<text x="364.8" y="186" font-size="5.5" text-anchor="middle" fill="#000" >3475</text>
<text x="430" y="186" font-size="5.5" text-anchor="middle" fill="#000" >3250</text>
<text x="478.3" y="186" font-size="5.5" text-anchor="middle" fill="#000" >1550</text>
<rect x="582.9" y="89.5" width="1.80" height="14.10" fill="#fff" stroke="#000" stroke-width="0.5"/>
<rect x="495.3" y="137.8" width="20.20" height="1.80" fill="#fff" stroke="#000" stroke-width="0.5"/>
<rect x="513.7" y="137.8" width="1.80" height="16.50" fill="#fff" stroke="#000" stroke-width="0.5"/>
<rect x="577.3" y="120.6" width="47.00" height="1.80" fill="#fff" stroke="#000" stroke-width="0.5"/>
<rect x="576.4" y="120.6" width="1.80" height="33.60" fill="#fff" stroke="#000" stroke-width="0.5"/>
<rect x="542.3" y="152.3" width="35.90" height="1.90" fill="#fff" stroke="#000" stroke-width="0.5"/>
<rect x="568.5" y="175.8" width="23.00" height="2.20" fill="#fff" stroke="#000" stroke-width="0.5"/>
<rect x="611.1" y="175.8" width="13.20" height="2.20" fill="#fff" stroke="#000" stroke-width="0.5"/>
<rect x="568.5" y="175.8" width="2.20" height="88.80" fill="#fff" stroke="#000" stroke-width="0.5"/>
<rect x="577.3" y="178.4" width="3.0" height="86" fill="#fff"/>
<rect x="579.5" y="226.5" width="40.4" height="2.7" fill="#fff"/>
<rect x="495.3" y="263.6" width="38.30" height="2.00" fill="#fff" stroke="#000" stroke-width="0.5"/>
<rect x="552.1" y="263.6" width="72.20" height="2.00" fill="#fff" stroke="#000" stroke-width="0.5"/>
<rect x="610.5" y="286.6" width="13.7" height="12.6" fill="#fff" stroke="#000" stroke-width="0.6"/>
<text x="528" y="211.6" font-size="5.6" textLength="18.4" lengthAdjust="spacingAndGlyphs" font-weight="bold" fill="#000">MEETING</text>
<line x1="493.3" y1="98" x2="493.3" y2="324" stroke="#000" stroke-width="1.4" />
<line x1="495.3" y1="89.5" x2="495.3" y2="299.2" stroke="#000" stroke-width="0.6" />
<line x1="625.6" y1="84.2" x2="625.6" y2="382.6" stroke="#000" stroke-width="0.9" />
<line x1="628.3" y1="97.9" x2="628.3" y2="382.6" stroke="#000" stroke-width="0.9" />
<line x1="495.3" y1="299.2" x2="624.3" y2="299.2" stroke="#000" stroke-width="0.8" />
<line x1="495.8" y1="301.3" x2="624.3" y2="301.3" stroke="#000" stroke-width="0.7" />
<circle cx="493.8" cy="152.7" r="1.4" fill="#000" stroke="#000" stroke-width="0"/>
<circle cx="493.8" cy="176.4" r="1.4" fill="#000" stroke="#000" stroke-width="0"/>
<circle cx="493.8" cy="184" r="1.4" fill="#000" stroke="#000" stroke-width="0"/>
<circle cx="493.8" cy="202.8" r="1.4" fill="#000" stroke="#000" stroke-width="0"/>
<circle cx="493.8" cy="245.6" r="1.4" fill="#000" stroke="#000" stroke-width="0"/>
<circle cx="493.8" cy="264.5" r="1.4" fill="#000" stroke="#000" stroke-width="0"/>
<circle cx="493.8" cy="323.2" r="1.4" fill="#000" stroke="#000" stroke-width="0"/>
<line x1="495.8" y1="301.3" x2="495.8" y2="324" stroke="#000" stroke-width="0.6" />
<line x1="521.5" y1="344.5" x2="624.3" y2="344.5" stroke="#000" stroke-width="0.75" />
<line x1="492.6" y1="346.6" x2="624.3" y2="346.6" stroke="#000" stroke-width="0.8" />
<line x1="493.7" y1="341.7" x2="514.7" y2="341.7" stroke="#000" stroke-width="0.7" />
<path d="M495,340.8 L492.8,341.4 L492.8,343.5 L494,343.8" fill="none" stroke="#000" stroke-width="1.2"/>
<path d="M494.3,323.4 L493,324.2 L493.4,325.2 L495,325" fill="none" stroke="#000" stroke-width="1.1"/>
<polyline points="518.5,339.2 518.5,320.3 521.5,320.3 521.5,344.5" fill="none" stroke="#000" stroke-width="0.7"/>
<polyline points="514.7,341.7 514.7,339.5 518.5,339.5" fill="none" stroke="#000" stroke-width="0.6"/>
<polyline points="558.3,344.5 558.3,319.2 561.7,319.2 561.7,344.5" fill="none" stroke="#000" stroke-width="0.7"/>
<line x1="558" y1="318.8" x2="561.9" y2="318.8" stroke="#000" stroke-width="0.9" />
<polyline points="581.5,344.5 581.5,321 577.9,321 577.9,318.8 584.6,318.8 584.6,321 583.8,321 583.8,344.5" fill="none" stroke="#000" stroke-width="0.7"/>
<polyline points="602.1,344.5 602.1,321 599,321 599,318.8 605.9,318.8 605.9,321 605.3,321 605.3,344.5" fill="none" stroke="#000" stroke-width="0.7"/>
<polyline points="622.5,321.5 621,321.5 621,319.5 624.3,319.5" fill="none" stroke="#000" stroke-width="0.6"/>
<polyline points="519,301.3 519,303.8 522,303.8 522,301.3" fill="none" stroke="#000" stroke-width="0.6"/>
<rect x="389.1" y="188.29999999999998" width="21" height="21.9" fill="none" stroke="#000" stroke-width="0.75"/>
<rect x="380.0" y="188.29999999999998" width="6.2" height="21.9" fill="none" stroke="#000" stroke-width="0.7"/>
<rect x="413.6" y="188.29999999999998" width="6" height="21.9" fill="none" stroke="#000" stroke-width="0.7"/>
<rect x="389.1" y="180.0" width="21" height="5.6" fill="none" stroke="#000" stroke-width="0.7"/>
<rect x="389.1" y="212.79999999999998" width="21" height="5.8" fill="none" stroke="#000" stroke-width="0.7"/>
<rect x="397.0" y="196.6" width="5.2" height="5.2" fill="none" stroke="#000" stroke-width="1.1"/>
<line x1="397.0" y1="199.2" x2="402.20000000000005" y2="199.2" stroke="#000" stroke-width="0.6" />
<line x1="399.6" y1="196.6" x2="399.6" y2="201.79999999999998" stroke="#000" stroke-width="0.6" />
<rect x="389.1" y="244.4" width="21" height="21.9" fill="none" stroke="#000" stroke-width="0.75"/>
<rect x="380.0" y="244.4" width="6.2" height="21.9" fill="none" stroke="#000" stroke-width="0.7"/>
<rect x="413.6" y="244.4" width="6" height="21.9" fill="none" stroke="#000" stroke-width="0.7"/>
<rect x="389.1" y="236.10000000000002" width="21" height="5.6" fill="none" stroke="#000" stroke-width="0.7"/>
<rect x="389.1" y="268.90000000000003" width="21" height="5.8" fill="none" stroke="#000" stroke-width="0.7"/>
<rect x="397.0" y="252.70000000000002" width="5.2" height="5.2" fill="none" stroke="#000" stroke-width="1.1"/>
<line x1="397.0" y1="255.3" x2="402.20000000000005" y2="255.3" stroke="#000" stroke-width="0.6" />
<line x1="399.6" y1="252.70000000000002" x2="399.6" y2="257.90000000000003" stroke="#000" stroke-width="0.6" />
<rect x="389.1" y="293.1" width="21" height="21.9" fill="none" stroke="#000" stroke-width="0.75"/>
<rect x="380.0" y="293.1" width="6.2" height="21.9" fill="none" stroke="#000" stroke-width="0.7"/>
<rect x="413.6" y="293.1" width="6" height="21.9" fill="none" stroke="#000" stroke-width="0.7"/>
<rect x="389.1" y="284.8" width="21" height="5.6" fill="none" stroke="#000" stroke-width="0.7"/>
<rect x="389.1" y="317.6" width="21" height="5.8" fill="none" stroke="#000" stroke-width="0.7"/>
<rect x="397.0" y="301.4" width="5.2" height="5.2" fill="none" stroke="#000" stroke-width="1.1"/>
<line x1="397.0" y1="304" x2="402.20000000000005" y2="304" stroke="#000" stroke-width="0.6" />
<line x1="399.6" y1="301.4" x2="399.6" y2="306.6" stroke="#000" stroke-width="0.6" />
<rect x="452.7" y="188.29999999999998" width="21" height="21.9" fill="none" stroke="#000" stroke-width="0.75"/>
<rect x="443.59999999999997" y="188.29999999999998" width="6.2" height="21.9" fill="none" stroke="#000" stroke-width="0.7"/>
<rect x="477.2" y="188.29999999999998" width="6" height="21.9" fill="none" stroke="#000" stroke-width="0.7"/>
<rect x="452.7" y="180.0" width="21" height="5.6" fill="none" stroke="#000" stroke-width="0.7"/>
<rect x="452.7" y="212.79999999999998" width="21" height="5.8" fill="none" stroke="#000" stroke-width="0.7"/>
<rect x="460.59999999999997" y="196.6" width="5.2" height="5.2" fill="none" stroke="#000" stroke-width="1.1"/>
<line x1="460.59999999999997" y1="199.2" x2="465.8" y2="199.2" stroke="#000" stroke-width="0.6" />
<line x1="463.2" y1="196.6" x2="463.2" y2="201.79999999999998" stroke="#000" stroke-width="0.6" />
<rect x="452.7" y="244.4" width="21" height="21.9" fill="none" stroke="#000" stroke-width="0.75"/>
<rect x="443.59999999999997" y="244.4" width="6.2" height="21.9" fill="none" stroke="#000" stroke-width="0.7"/>
<rect x="477.2" y="244.4" width="6" height="21.9" fill="none" stroke="#000" stroke-width="0.7"/>
<rect x="452.7" y="268.90000000000003" width="21" height="5.8" fill="none" stroke="#000" stroke-width="0.7"/>
<rect x="460.59999999999997" y="252.70000000000002" width="5.2" height="5.2" fill="none" stroke="#000" stroke-width="1.1"/>
<line x1="460.59999999999997" y1="255.3" x2="465.8" y2="255.3" stroke="#000" stroke-width="0.6" />
<line x1="463.2" y1="252.70000000000002" x2="463.2" y2="257.90000000000003" stroke="#000" stroke-width="0.6" />
<rect x="452.7" y="293.1" width="21" height="21.9" fill="none" stroke="#000" stroke-width="0.75"/>
<rect x="443.59999999999997" y="293.1" width="6.2" height="21.9" fill="none" stroke="#000" stroke-width="0.7"/>
<rect x="477.2" y="293.1" width="6" height="21.9" fill="none" stroke="#000" stroke-width="0.7"/>
<rect x="452.7" y="284.8" width="21" height="5.6" fill="none" stroke="#000" stroke-width="0.7"/>
<rect x="452.7" y="317.6" width="21" height="5.8" fill="none" stroke="#000" stroke-width="0.7"/>
<rect x="460.59999999999997" y="301.4" width="5.2" height="5.2" fill="none" stroke="#000" stroke-width="1.1"/>
<line x1="460.59999999999997" y1="304" x2="465.8" y2="304" stroke="#000" stroke-width="0.6" />
<line x1="463.2" y1="301.4" x2="463.2" y2="306.6" stroke="#000" stroke-width="0.6" />
<g transform="translate(417.8,181.6) rotate(45)"><rect x="-5.8" y="-2.668" width="11.6" height="5.336" fill="none" stroke="#000" stroke-width="0.6"/><path d="M-5.8,-2.668 L5.8,2.668 M5.8,-2.668 L-5.8,2.668" stroke="#000" stroke-width="0.45"/></g>
<g transform="translate(445.5,181.4) rotate(-47)"><rect x="-5.7" y="-2.6220000000000003" width="11.4" height="5.244000000000001" fill="none" stroke="#000" stroke-width="0.6"/><path d="M-5.7,-2.6220000000000003 L5.7,2.6220000000000003 M5.7,-2.6220000000000003 L-5.7,2.6220000000000003" stroke="#000" stroke-width="0.45"/></g>
<g transform="translate(416.5,237.4) rotate(45)"><rect x="-5.8" y="-2.668" width="11.6" height="5.336" fill="none" stroke="#000" stroke-width="0.6"/><path d="M-5.8,-2.668 L5.8,2.668 M5.8,-2.668 L-5.8,2.668" stroke="#000" stroke-width="0.45"/></g>
<g transform="translate(444.6,273.5) rotate(45)"><rect x="-5.8" y="-2.668" width="11.6" height="5.336" fill="none" stroke="#000" stroke-width="0.6"/><path d="M-5.8,-2.668 L5.8,2.668 M5.8,-2.668 L-5.8,2.668" stroke="#000" stroke-width="0.45"/></g>
<g transform="translate(481,285.9) rotate(-47)"><rect x="-5.8" y="-2.668" width="11.6" height="5.336" fill="none" stroke="#000" stroke-width="0.6"/><path d="M-5.8,-2.668 L5.8,2.668 M5.8,-2.668 L-5.8,2.668" stroke="#000" stroke-width="0.45"/></g>
<g transform="translate(416.5,286.7) rotate(45)"><rect x="-5.8" y="-2.668" width="11.6" height="5.336" fill="none" stroke="#000" stroke-width="0.6"/><path d="M-5.8,-2.668 L5.8,2.668 M5.8,-2.668 L-5.8,2.668" stroke="#000" stroke-width="0.45"/></g>
<rect x="445.6" y="227.4" width="8.2" height="15.5" fill="none" stroke="#000" stroke-width="0.7"/>
<line x1="445.6" y1="227.4" x2="453.8" y2="242.9" stroke="#000" stroke-width="0.5" />
<line x1="445.6" y1="242.9" x2="453.8" y2="227.4" stroke="#000" stroke-width="0.5" />
<line x1="370" y1="222.8" x2="448.3" y2="222.8" stroke="#000" stroke-width="0.6" />
<circle cx="438.3" cy="222.8" r="2.8" fill="none" stroke="#000" stroke-width="0.7"/>
<line x1="434.7" y1="222.8" x2="441.90000000000003" y2="222.8" stroke="#000" stroke-width="0.5" />
<line x1="438.3" y1="219.2" x2="438.3" y2="226.40000000000003" stroke="#000" stroke-width="0.5" />
<circle cx="463.2" cy="221.9" r="2.6" fill="none" stroke="#000" stroke-width="0.7"/>
<line x1="459.79999999999995" y1="221.9" x2="466.6" y2="221.9" stroke="#000" stroke-width="0.5" />
<line x1="463.2" y1="218.5" x2="463.2" y2="225.3" stroke="#000" stroke-width="0.5" />
<circle cx="476.5" cy="234.7" r="2.6" fill="none" stroke="#000" stroke-width="0.7"/>
<line x1="473.09999999999997" y1="234.7" x2="479.90000000000003" y2="234.7" stroke="#000" stroke-width="0.5" />
<line x1="476.5" y1="231.29999999999998" x2="476.5" y2="238.1" stroke="#000" stroke-width="0.5" />
<line x1="399.6" y1="160" x2="399.6" y2="330" stroke="#000" stroke-width="0.7" />
<line x1="438.8" y1="215" x2="438.8" y2="345" stroke="#000" stroke-width="0.7" />
<line x1="370" y1="285.3" x2="449.4" y2="285.3" stroke="#000" stroke-width="0.6" />
<circle cx="438.8" cy="285.3" r="2.8" fill="none" stroke="#000" stroke-width="0.7"/>
<line x1="435.2" y1="285.3" x2="442.40000000000003" y2="285.3" stroke="#000" stroke-width="0.5" />
<line x1="438.8" y1="281.7" x2="438.8" y2="288.90000000000003" stroke="#000" stroke-width="0.5" />
<circle cx="438.8" cy="335.6" r="2.8" fill="none" stroke="#000" stroke-width="0.7"/>
<line x1="435.2" y1="335.6" x2="442.40000000000003" y2="335.6" stroke="#000" stroke-width="0.5" />
<line x1="438.8" y1="332.0" x2="438.8" y2="339.20000000000005" stroke="#000" stroke-width="0.5" />
<line x1="485.6" y1="199.2" x2="485.6" y2="226.5" stroke="#000" stroke-width="0.6" />
<line x1="484.7" y1="245.7" x2="484.7" y2="304" stroke="#000" stroke-width="0.6" />
<line x1="474" y1="199.2" x2="486.5" y2="199.2" stroke="#000" stroke-width="0.5" />
<line x1="482" y1="304" x2="486" y2="304" stroke="#000" stroke-width="0.5" />
<text x="482" y="212.8" font-size="4.3" text-anchor="middle" fill="#000" transform="rotate(-90 482 212.8)" >1400</text>
<text x="482" y="249" font-size="4.3" text-anchor="middle" fill="#000" transform="rotate(-90 482 249)" >1400</text>
<text x="482" y="282" font-size="4.3" text-anchor="middle" fill="#000" transform="rotate(-90 482 282)" >1400</text>
<line x1="376.7" y1="219.5" x2="376.7" y2="347" stroke="#000" stroke-width="0.6" />
<line x1="374.7" y1="219.5" x2="378.7" y2="219.5" stroke="#000" stroke-width="0.5" />
<text x="373.5" y="254" font-size="4.5" text-anchor="middle" fill="#000" transform="rotate(-90 373.5 254)" >3200</text>
<text x="373.5" y="318" font-size="4.5" text-anchor="middle" fill="#000" transform="rotate(-90 373.5 318)" >3200</text>
<text x="357" y="208.5" font-size="4.5" text-anchor="middle" fill="#000" >495</text>
<line x1="350.1" y1="209.8" x2="350.1" y2="240" stroke="#000" stroke-width="0.6" />
<line x1="361.2" y1="209.8" x2="361.2" y2="345" stroke="#000" stroke-width="0.6" />
<circle cx="359.9" cy="222.1" r="2.8" fill="none" stroke="#000" stroke-width="0.7"/>
<line x1="356.29999999999995" y1="222.1" x2="363.5" y2="222.1" stroke="#000" stroke-width="0.5" />
<line x1="359.9" y1="218.49999999999997" x2="359.9" y2="225.70000000000002" stroke="#000" stroke-width="0.5" />
<circle cx="359.9" cy="284.8" r="2.8" fill="none" stroke="#000" stroke-width="0.7"/>
<line x1="356.29999999999995" y1="284.8" x2="363.5" y2="284.8" stroke="#000" stroke-width="0.5" />
<line x1="359.9" y1="281.2" x2="359.9" y2="288.40000000000003" stroke="#000" stroke-width="0.5" />
<circle cx="359.9" cy="335.4" r="2.8" fill="none" stroke="#000" stroke-width="0.7"/>
<line x1="356.29999999999995" y1="335.4" x2="363.5" y2="335.4" stroke="#000" stroke-width="0.5" />
<line x1="359.9" y1="331.79999999999995" x2="359.9" y2="339.0" stroke="#000" stroke-width="0.5" />
<rect x="273.4" y="231.7" width="22" height="14.400000000000006" fill="none" stroke="#000" stroke-width="0.75"/>
<circle cx="284.5" cy="238.4" r="2.7" fill="none" stroke="#000" stroke-width="0.7"/>
<line x1="281.0" y1="238.4" x2="288.0" y2="238.4" stroke="#000" stroke-width="0.5" />
<line x1="284.5" y1="234.9" x2="284.5" y2="241.9" stroke="#000" stroke-width="0.5" />
<rect x="267.7" y="234.5" width="5.699999999999989" height="9.599999999999994" fill="none" stroke="#000" stroke-width="0.7"/>
<line x1="267.7" y1="234.5" x2="273.4" y2="244.1" stroke="#000" stroke-width="0.45" />
<line x1="267.7" y1="244.1" x2="273.4" y2="234.5" stroke="#000" stroke-width="0.45" />
<rect x="273.4" y="271" width="22" height="12.600000000000023" fill="none" stroke="#000" stroke-width="0.75"/>
<circle cx="284.5" cy="276.7" r="2.7" fill="none" stroke="#000" stroke-width="0.7"/>
<line x1="281.0" y1="276.7" x2="288.0" y2="276.7" stroke="#000" stroke-width="0.5" />
<line x1="284.5" y1="273.2" x2="284.5" y2="280.2" stroke="#000" stroke-width="0.5" />
<rect x="267.7" y="273.8" width="5.699999999999989" height="7.800000000000011" fill="none" stroke="#000" stroke-width="0.7"/>
<line x1="267.7" y1="273.8" x2="273.4" y2="281.6" stroke="#000" stroke-width="0.45" />
<line x1="267.7" y1="281.6" x2="273.4" y2="273.8" stroke="#000" stroke-width="0.45" />
<rect x="273.4" y="308.3" width="22" height="13.399999999999977" fill="none" stroke="#000" stroke-width="0.75"/>
<circle cx="284.5" cy="314.7" r="2.7" fill="none" stroke="#000" stroke-width="0.7"/>
<line x1="281.0" y1="314.7" x2="288.0" y2="314.7" stroke="#000" stroke-width="0.5" />
<line x1="284.5" y1="311.2" x2="284.5" y2="318.2" stroke="#000" stroke-width="0.5" />
<rect x="267.7" y="311.1" width="5.699999999999989" height="8.599999999999966" fill="none" stroke="#000" stroke-width="0.7"/>
<line x1="267.7" y1="311.1" x2="273.4" y2="319.7" stroke="#000" stroke-width="0.45" />
<line x1="267.7" y1="319.7" x2="273.4" y2="311.1" stroke="#000" stroke-width="0.45" />
<rect x="273.4" y="249" width="22" height="4.5" fill="none" stroke="#000" stroke-width="0.6"/>
<rect x="273.4" y="256.5" width="22" height="4.5" fill="none" stroke="#000" stroke-width="0.6"/>
<rect x="273.4" y="264" width="22" height="4.5" fill="none" stroke="#000" stroke-width="0.6"/>
<rect x="273.4" y="286.5" width="22" height="4.5" fill="none" stroke="#000" stroke-width="0.6"/>
<rect x="273.4" y="294" width="22" height="4.5" fill="none" stroke="#000" stroke-width="0.6"/>
<rect x="273.4" y="301.5" width="22" height="4.5" fill="none" stroke="#000" stroke-width="0.6"/>
<line x1="278.2" y1="225" x2="278.2" y2="330" stroke="#000" stroke-width="0.6" />
<line x1="284.5" y1="223" x2="284.5" y2="335" stroke="#000" stroke-width="0.6" />
<line x1="263.8" y1="228" x2="263.8" y2="354" stroke="#000" stroke-width="0.6" />
<text x="261.2" y="263.3" font-size="4.5" text-anchor="middle" fill="#000" transform="rotate(-90 261.2 263.3)" >3200</text>
<text x="276.5" y="257.6" font-size="4.2" text-anchor="middle" fill="#000" transform="rotate(-90 276.5 257.6)" >1464</text>
<text x="276.5" y="296" font-size="4.2" text-anchor="middle" fill="#000" transform="rotate(-90 276.5 296)" >1464</text>
<rect x="296.2" y="244.7" width="4.8" height="137.6" fill="#d0d0d0" stroke="#000" stroke-width="0.6"/>
<line x1="302.3" y1="244.7" x2="302.3" y2="357.4" stroke="#000" stroke-width="0.6" />
<line x1="304.6" y1="244.7" x2="304.6" y2="357.4" stroke="#000" stroke-width="0.6" />
<rect x="302.1" y="245.5" width="4" height="19.7" fill="#fff" stroke="#000" stroke-width="0.9"/>
<rect x="302.8" y="250" width="2.6" height="3" fill="#222"/><rect x="302.8" y="257" width="2.6" height="5" fill="#222"/>
<rect x="322.2" y="232.4" width="22.1" height="13.900000000000006" fill="none" stroke="#000" stroke-width="0.75"/>
<circle cx="333.4" cy="239.8" r="2.7" fill="none" stroke="#000" stroke-width="0.7"/>
<line x1="329.9" y1="239.8" x2="336.9" y2="239.8" stroke="#000" stroke-width="0.5" />
<line x1="333.4" y1="236.3" x2="333.4" y2="243.3" stroke="#000" stroke-width="0.5" />
<rect x="345.2" y="234.8" width="5.699999999999989" height="10.5" fill="none" stroke="#000" stroke-width="0.7"/>
<line x1="345.2" y1="234.8" x2="350.9" y2="245.3" stroke="#000" stroke-width="0.45" />
<line x1="345.2" y1="245.3" x2="350.9" y2="234.8" stroke="#000" stroke-width="0.45" />
<rect x="322.2" y="275" width="22.1" height="13.899999999999977" fill="none" stroke="#000" stroke-width="0.75"/>
<circle cx="333.4" cy="282" r="2.7" fill="none" stroke="#000" stroke-width="0.7"/>
<line x1="329.9" y1="282" x2="336.9" y2="282" stroke="#000" stroke-width="0.5" />
<line x1="333.4" y1="278.5" x2="333.4" y2="285.5" stroke="#000" stroke-width="0.5" />
<rect x="345.2" y="277.4" width="5.699999999999989" height="10.5" fill="none" stroke="#000" stroke-width="0.7"/>
<line x1="345.2" y1="277.4" x2="350.9" y2="287.9" stroke="#000" stroke-width="0.45" />
<line x1="345.2" y1="287.9" x2="350.9" y2="277.4" stroke="#000" stroke-width="0.45" />
<rect x="322.2" y="317.2" width="22.1" height="13.400000000000034" fill="none" stroke="#000" stroke-width="0.75"/>
<circle cx="333.4" cy="323.9" r="2.7" fill="none" stroke="#000" stroke-width="0.7"/>
<line x1="329.9" y1="323.9" x2="336.9" y2="323.9" stroke="#000" stroke-width="0.5" />
<line x1="333.4" y1="320.4" x2="333.4" y2="327.4" stroke="#000" stroke-width="0.5" />
<rect x="345.2" y="319.59999999999997" width="5.699999999999989" height="10.000000000000057" fill="none" stroke="#000" stroke-width="0.7"/>
<line x1="345.2" y1="319.59999999999997" x2="350.9" y2="329.6" stroke="#000" stroke-width="0.45" />
<line x1="345.2" y1="329.6" x2="350.9" y2="319.59999999999997" stroke="#000" stroke-width="0.45" />
<rect x="322.2" y="249.6" width="22.1" height="6.500000000000028" fill="none" stroke="#000" stroke-width="0.65"/>
<rect x="322.2" y="265.2" width="22.1" height="5.699999999999989" fill="none" stroke="#000" stroke-width="0.65"/>
<rect x="322.2" y="292.2" width="22.1" height="6.600000000000023" fill="none" stroke="#000" stroke-width="0.65"/>
<rect x="322.2" y="307.8" width="22.1" height="5.699999999999989" fill="none" stroke="#000" stroke-width="0.65"/>
<rect x="322.2" y="334.4" width="22.1" height="4.800000000000011" fill="none" stroke="#000" stroke-width="0.65"/>
<rect x="322.2" y="222" width="22.1" height="6.5" fill="none" stroke="#000" stroke-width="0.65"/>
<line x1="317.3" y1="212.3" x2="317.3" y2="344" stroke="#000" stroke-width="0.7" />
<line x1="320.1" y1="212.3" x2="320.1" y2="346.9" stroke="#000" stroke-width="0.7" />
<polyline points="304.8,344 317.3,344" fill="none" stroke="#000" stroke-width="0.7"/>
<polyline points="320.1,346.9 304.8,346.9" fill="none" stroke="#000" stroke-width="0.7"/>
<text x="346.5" y="258" font-size="4.2" text-anchor="middle" fill="#000" transform="rotate(-90 346.5 258)" >1464</text>
<text x="346.5" y="302" font-size="4.2" text-anchor="middle" fill="#000" transform="rotate(-90 346.5 302)" >1464</text>
<line x1="347.8" y1="346.9" x2="375" y2="346.9" stroke="#000" stroke-width="0.6" />
<rect x="287.5" y="184.4" width="12.0" height="6.0" fill="none" stroke="#000" stroke-width="0.7"/>
<line x1="287.5" y1="184.4" x2="299.5" y2="190.4" stroke="#000" stroke-width="0.45" />
<line x1="287.5" y1="190.4" x2="299.5" y2="184.4" stroke="#000" stroke-width="0.45" />
<rect x="325.5" y="184.4" width="12.300000000000011" height="6.0" fill="none" stroke="#000" stroke-width="0.7"/>
<line x1="325.5" y1="184.4" x2="337.8" y2="190.4" stroke="#000" stroke-width="0.45" />
<line x1="325.5" y1="190.4" x2="337.8" y2="184.4" stroke="#000" stroke-width="0.45" />
<rect x="277.1" y="190.4" width="5.8" height="21.3" fill="none" stroke="#000" stroke-width="0.6"/>
<rect x="285.3" y="190.4" width="15.6" height="21.3" fill="none" stroke="#000" stroke-width="0.7"/>
<circle cx="293.3" cy="200.8" r="2.7" fill="none" stroke="#000" stroke-width="0.7"/>
<line x1="289.8" y1="200.8" x2="296.8" y2="200.8" stroke="#000" stroke-width="0.5" />
<line x1="293.3" y1="197.3" x2="293.3" y2="204.3" stroke="#000" stroke-width="0.5" />
<rect x="304.2" y="190.4" width="4.900000000000034" height="21.3" fill="none" stroke="#000" stroke-width="0.6"/>
<rect x="309.9" y="190.4" width="4.900000000000034" height="21.3" fill="none" stroke="#000" stroke-width="0.6"/>
<rect x="315.7" y="190.4" width="5.699999999999989" height="21.3" fill="none" stroke="#000" stroke-width="0.6"/>
<rect x="341.9" y="190.4" width="6.5" height="21.3" fill="none" stroke="#000" stroke-width="0.6"/>
<rect x="323.9" y="190.4" width="14.7" height="21.3" fill="none" stroke="#000" stroke-width="0.7"/>
<circle cx="329.6" cy="200.8" r="2.7" fill="none" stroke="#000" stroke-width="0.7"/>
<line x1="326.1" y1="200.8" x2="333.1" y2="200.8" stroke="#000" stroke-width="0.5" />
<line x1="329.6" y1="197.3" x2="329.6" y2="204.3" stroke="#000" stroke-width="0.5" />
<line x1="282" y1="200.8" x2="344.3" y2="200.8" stroke="#000" stroke-width="0.5" />
<line x1="273.9" y1="212.3" x2="349.3" y2="212.3" stroke="#000" stroke-width="0.7" />
<rect x="274.3" y="211.7" width="15.3" height="4.4" fill="none" stroke="#000" stroke-width="0.6"/>
<line x1="280" y1="211.7" x2="280" y2="216" stroke="#000" stroke-width="0.6" />
<line x1="283" y1="211.7" x2="283" y2="216" stroke="#000" stroke-width="0.6" />
<line x1="286" y1="211.7" x2="286" y2="216" stroke="#000" stroke-width="0.6" />
<rect x="320.6" y="211.5" width="19.6" height="5.7" fill="none" stroke="#000" stroke-width="0.8"/>
<line x1="295.7" y1="216.6" x2="295.7" y2="230.5" stroke="#000" stroke-width="1.1" />
<line x1="300.6" y1="216.6" x2="300.6" y2="230.3" stroke="#000" stroke-width="0.6" />
<line x1="300.6" y1="216.6" x2="317.3" y2="216.6" stroke="#000" stroke-width="0.6" />
<line x1="349.3" y1="212.3" x2="349.3" y2="240" stroke="#000" stroke-width="0.6" />
<text x="275.4" y="220.3" font-size="5" text-anchor="middle" fill="#000" >2045</text>
<line x1="255.2" y1="223.2" x2="295.7" y2="223.2" stroke="#000" stroke-width="0.6" />
<line x1="255.2" y1="223.2" x2="255.2" y2="228.1" stroke="#000" stroke-width="0.6" />
<rect x="273.3" y="223.2" width="22.4" height="4.9" fill="none" stroke="#000" stroke-width="0.6"/>
<rect x="273.3" y="228.5" width="22.4" height="2.5" fill="none" stroke="#000" stroke-width="0.5"/>
<line x1="255" y1="223" x2="295.2" y2="223" stroke="#000" stroke-width="0.5" />
<circle cx="255.2" cy="233.5" r="2.5" fill="none" stroke="#000" stroke-width="0.7"/>
<line x1="251.89999999999998" y1="233.5" x2="258.5" y2="233.5" stroke="#000" stroke-width="0.5" />
<line x1="255.2" y1="230.2" x2="255.2" y2="236.8" stroke="#000" stroke-width="0.5" />
<text x="268" y="236.5" font-size="4.5" text-anchor="middle" fill="#000" >1TV</text>
<text x="270.5" y="211" font-size="4.2" text-anchor="middle" fill="#000" transform="rotate(-90 270.5 211)" >450</text>
<rect x="286.6" y="339.2" width="8.599999999999966" height="16.30000000000001" fill="none" stroke="#000" stroke-width="0.7"/>
<line x1="286.6" y1="339.2" x2="295.2" y2="355.5" stroke="#000" stroke-width="0.45" />
<line x1="286.6" y1="355.5" x2="295.2" y2="339.2" stroke="#000" stroke-width="0.45" />
<rect x="284.7" y="355.5" width="10.5" height="1.9" fill="#000"/>
<line x1="278" y1="326.8" x2="278" y2="355.5" stroke="#000" stroke-width="0.6" />
<text x="276" y="341" font-size="4.3" text-anchor="middle" fill="#000" transform="rotate(-90 276 341)" >2045</text>
<line x1="280.8" y1="367" x2="295.2" y2="367" stroke="#000" stroke-width="0.6" />
<line x1="280.8" y1="367" x2="280.8" y2="371" stroke="#000" stroke-width="0.6" />
<text x="288" y="365.5" font-size="4.5" text-anchor="middle" fill="#000" >730</text>
<rect x="277.8" y="371.3" width="6" height="6" fill="none" stroke="#000" stroke-width="0.7"/>
<line x1="277.8" y1="374.3" x2="283.8" y2="374.3" stroke="#000" stroke-width="0.5" />
<line x1="280.8" y1="371.3" x2="280.8" y2="377.3" stroke="#000" stroke-width="0.5" />
<line x1="274.1" y1="372.7" x2="274.1" y2="390" stroke="#000" stroke-width="0.6" />
<text x="272.8" y="381.5" font-size="4.3" text-anchor="middle" fill="#000" transform="rotate(-90 272.8 381.5)" >800</text>
<rect x="287.5" y="302.5" width="7.5" height="4" fill="none" stroke="#000" stroke-width="0.6"/>
<text x="290" y="304" font-size="3.5" text-anchor="middle" fill="#000" >2150</text>
<polyline points="263.6,399.5 263.6,354.5 268.5,354.5 268.5,357.4 267.4,357.4 267.4,390" fill="none" stroke="#000" stroke-width="0.8"/>
<line x1="267.4" y1="390" x2="296.1" y2="390" stroke="#000" stroke-width="1.3" />
<line x1="309.5" y1="389.6" x2="620.3" y2="389.6" stroke="#000" stroke-width="1.3" />
<rect x="263.6" y="395.1" width="356.7" height="3.6" fill="#b0b0b0"/>
<line x1="263.6" y1="398.4" x2="620.3" y2="398.4" stroke="#333" stroke-width="0.9" />
<line x1="263.6" y1="395.1" x2="620.3" y2="395.1" stroke="#777" stroke-width="0.4" />
<rect x="323.6" y="396.9" width="2" height="2" fill="#fff" stroke="#333" stroke-width="0.3"/>
<rect x="372.8" y="396.9" width="2" height="2" fill="#fff" stroke="#333" stroke-width="0.3"/>
<rect x="393" y="396.9" width="2" height="2" fill="#fff" stroke="#333" stroke-width="0.3"/>
<rect x="442.2" y="396.9" width="2" height="2" fill="#fff" stroke="#333" stroke-width="0.3"/>
<rect x="487.5" y="396.9" width="2" height="2" fill="#fff" stroke="#333" stroke-width="0.3"/>
<rect x="536.5" y="396.9" width="2" height="2" fill="#fff" stroke="#333" stroke-width="0.3"/>
<rect x="556" y="396.9" width="2" height="2" fill="#fff" stroke="#333" stroke-width="0.3"/>
<rect x="605" y="396.9" width="2" height="2" fill="#fff" stroke="#333" stroke-width="0.3"/>
<line x1="312.3" y1="364.7" x2="621" y2="364.7" stroke="#333" stroke-width="0.7" />
<line x1="312.3" y1="363.7" x2="621" y2="363.7" stroke="#888" stroke-width="0.5" />
<line x1="312.3" y1="364.7" x2="312.3" y2="387.6" stroke="#000" stroke-width="1.5" />
<circle cx="312.3" cy="364.7" r="1.4" fill="#000" stroke="#000" stroke-width="0"/>
<circle cx="312.3" cy="387.6" r="1.6" fill="#000" stroke="#000" stroke-width="0"/>
<circle cx="312.3" cy="358.4" r="2.2" fill="none" stroke="#000" stroke-width="0.6"/>
<line x1="309.3" y1="358.4" x2="315.3" y2="358.4" stroke="#000" stroke-width="0.5" />
<line x1="312.3" y1="355.4" x2="312.3" y2="361.4" stroke="#000" stroke-width="0.5" />
<line x1="360" y1="364.7" x2="360" y2="387.6" stroke="#000" stroke-width="1.5" />
<circle cx="360" cy="364.7" r="1.4" fill="#000" stroke="#000" stroke-width="0"/>
<circle cx="360" cy="387.6" r="1.6" fill="#000" stroke="#000" stroke-width="0"/>
<circle cx="360" cy="358.4" r="2.2" fill="none" stroke="#000" stroke-width="0.6"/>
<line x1="357.0" y1="358.4" x2="363.0" y2="358.4" stroke="#000" stroke-width="0.5" />
<line x1="360" y1="355.4" x2="360" y2="361.4" stroke="#000" stroke-width="0.5" />
<line x1="407.8" y1="364.7" x2="407.8" y2="387.6" stroke="#000" stroke-width="1.5" />
<circle cx="407.8" cy="364.7" r="1.4" fill="#000" stroke="#000" stroke-width="0"/>
<circle cx="407.8" cy="387.6" r="1.6" fill="#000" stroke="#000" stroke-width="0"/>
<circle cx="407.8" cy="358.4" r="2.2" fill="none" stroke="#000" stroke-width="0.6"/>
<line x1="404.8" y1="358.4" x2="410.8" y2="358.4" stroke="#000" stroke-width="0.5" />
<line x1="407.8" y1="355.4" x2="407.8" y2="361.4" stroke="#000" stroke-width="0.5" />
<line x1="455.5" y1="364.7" x2="455.5" y2="387.6" stroke="#000" stroke-width="1.5" />
<circle cx="455.5" cy="364.7" r="1.4" fill="#000" stroke="#000" stroke-width="0"/>
<circle cx="455.5" cy="387.6" r="1.6" fill="#000" stroke="#000" stroke-width="0"/>
<circle cx="455.5" cy="358.4" r="2.2" fill="none" stroke="#000" stroke-width="0.6"/>
<line x1="452.5" y1="358.4" x2="458.5" y2="358.4" stroke="#000" stroke-width="0.5" />
<line x1="455.5" y1="355.4" x2="455.5" y2="361.4" stroke="#000" stroke-width="0.5" />
<line x1="480.8" y1="364.7" x2="480.8" y2="387.6" stroke="#000" stroke-width="1.5" />
<circle cx="480.8" cy="364.7" r="1.4" fill="#000" stroke="#000" stroke-width="0"/>
<circle cx="480.8" cy="387.6" r="1.6" fill="#000" stroke="#000" stroke-width="0"/>
<circle cx="480.8" cy="358.4" r="2.2" fill="none" stroke="#000" stroke-width="0.6"/>
<line x1="477.8" y1="358.4" x2="483.8" y2="358.4" stroke="#000" stroke-width="0.5" />
<line x1="480.8" y1="355.4" x2="480.8" y2="361.4" stroke="#000" stroke-width="0.5" />
<line x1="528" y1="364.7" x2="528" y2="387.6" stroke="#000" stroke-width="1.5" />
<circle cx="528" cy="364.7" r="1.4" fill="#000" stroke="#000" stroke-width="0"/>
<circle cx="528" cy="387.6" r="1.6" fill="#000" stroke="#000" stroke-width="0"/>
<circle cx="528" cy="358.4" r="2.2" fill="none" stroke="#000" stroke-width="0.6"/>
<line x1="525.0" y1="358.4" x2="531.0" y2="358.4" stroke="#000" stroke-width="0.5" />
<line x1="528" y1="355.4" x2="528" y2="361.4" stroke="#000" stroke-width="0.5" />
<line x1="574.9" y1="364.7" x2="574.9" y2="387.6" stroke="#000" stroke-width="1.5" />
<circle cx="574.9" cy="364.7" r="1.4" fill="#000" stroke="#000" stroke-width="0"/>
<circle cx="574.9" cy="387.6" r="1.6" fill="#000" stroke="#000" stroke-width="0"/>
<circle cx="574.9" cy="358.4" r="2.2" fill="none" stroke="#000" stroke-width="0.6"/>
<line x1="571.9" y1="358.4" x2="577.9" y2="358.4" stroke="#000" stroke-width="0.5" />
<line x1="574.9" y1="355.4" x2="574.9" y2="361.4" stroke="#000" stroke-width="0.5" />
<circle cx="621" cy="364.7" r="1.4" fill="#000" stroke="#000" stroke-width="0"/>
<circle cx="621.5" cy="358.4" r="2.2" fill="none" stroke="#000" stroke-width="0.6"/>
<line x1="618.5" y1="358.4" x2="624.5" y2="358.4" stroke="#000" stroke-width="0.5" />
<line x1="621.5" y1="355.4" x2="621.5" y2="361.4" stroke="#000" stroke-width="0.5" />
<rect x="320.1" y="368.5" width="5.6" height="20.8" fill="none" stroke="#000" stroke-width="0.6"/>
<rect x="328.0" y="368.5" width="15.6" height="20.8" fill="none" stroke="#000" stroke-width="0.7"/>
<rect x="346.5" y="368.5" width="6" height="20.8" fill="none" stroke="#000" stroke-width="0.6"/>
<rect x="330.2" y="361.8" width="12.300000000000011" height="5.599999999999966" fill="none" stroke="#000" stroke-width="0.6"/>
<line x1="330.2" y1="361.8" x2="342.5" y2="367.4" stroke="#000" stroke-width="0.45" />
<line x1="330.2" y1="367.4" x2="342.5" y2="361.8" stroke="#000" stroke-width="0.45" />
<circle cx="336.2" cy="378.1" r="2.6" fill="none" stroke="#000" stroke-width="0.7"/>
<line x1="332.79999999999995" y1="378.1" x2="339.6" y2="378.1" stroke="#000" stroke-width="0.5" />
<line x1="336.2" y1="374.7" x2="336.2" y2="381.50000000000006" stroke="#000" stroke-width="0.5" />
<line x1="336.2" y1="381" x2="336.2" y2="407.5" stroke="#000" stroke-width="0.6" />
<rect x="367.8" y="368.5" width="5.6" height="20.8" fill="none" stroke="#000" stroke-width="0.6"/>
<rect x="375.7" y="368.5" width="15.6" height="20.8" fill="none" stroke="#000" stroke-width="0.7"/>
<rect x="394.2" y="368.5" width="6" height="20.8" fill="none" stroke="#000" stroke-width="0.6"/>
<rect x="377.9" y="361.8" width="12.300000000000011" height="5.599999999999966" fill="none" stroke="#000" stroke-width="0.6"/>
<line x1="377.9" y1="361.8" x2="390.2" y2="367.4" stroke="#000" stroke-width="0.45" />
<line x1="377.9" y1="367.4" x2="390.2" y2="361.8" stroke="#000" stroke-width="0.45" />
<circle cx="383.9" cy="378.1" r="2.6" fill="none" stroke="#000" stroke-width="0.7"/>
<line x1="380.49999999999994" y1="378.1" x2="387.3" y2="378.1" stroke="#000" stroke-width="0.5" />
<line x1="383.9" y1="374.7" x2="383.9" y2="381.50000000000006" stroke="#000" stroke-width="0.5" />
<line x1="383.9" y1="381" x2="383.9" y2="407.5" stroke="#000" stroke-width="0.6" />
<rect x="415.6" y="368.5" width="5.6" height="20.8" fill="none" stroke="#000" stroke-width="0.6"/>
<rect x="423.5" y="368.5" width="15.6" height="20.8" fill="none" stroke="#000" stroke-width="0.7"/>
<rect x="442.0" y="368.5" width="6" height="20.8" fill="none" stroke="#000" stroke-width="0.6"/>
<rect x="425.7" y="361.8" width="12.300000000000011" height="5.599999999999966" fill="none" stroke="#000" stroke-width="0.6"/>
<line x1="425.7" y1="361.8" x2="438.0" y2="367.4" stroke="#000" stroke-width="0.45" />
<line x1="425.7" y1="367.4" x2="438.0" y2="361.8" stroke="#000" stroke-width="0.45" />
<circle cx="431.7" cy="378.1" r="2.6" fill="none" stroke="#000" stroke-width="0.7"/>
<line x1="428.29999999999995" y1="378.1" x2="435.1" y2="378.1" stroke="#000" stroke-width="0.5" />
<line x1="431.7" y1="374.7" x2="431.7" y2="381.50000000000006" stroke="#000" stroke-width="0.5" />
<line x1="431.7" y1="381" x2="431.7" y2="407.5" stroke="#000" stroke-width="0.6" />
<rect x="488.6" y="368.5" width="5.6" height="20.8" fill="none" stroke="#000" stroke-width="0.6"/>
<rect x="496.5" y="368.5" width="15.6" height="20.8" fill="none" stroke="#000" stroke-width="0.7"/>
<rect x="515.0" y="368.5" width="6" height="20.8" fill="none" stroke="#000" stroke-width="0.6"/>
<rect x="498.7" y="361.8" width="12.300000000000011" height="5.599999999999966" fill="none" stroke="#000" stroke-width="0.6"/>
<line x1="498.7" y1="361.8" x2="511.0" y2="367.4" stroke="#000" stroke-width="0.45" />
<line x1="498.7" y1="367.4" x2="511.0" y2="361.8" stroke="#000" stroke-width="0.45" />
<circle cx="504.7" cy="378.1" r="2.6" fill="none" stroke="#000" stroke-width="0.7"/>
<line x1="501.29999999999995" y1="378.1" x2="508.1" y2="378.1" stroke="#000" stroke-width="0.5" />
<line x1="504.7" y1="374.7" x2="504.7" y2="381.50000000000006" stroke="#000" stroke-width="0.5" />
<line x1="504.7" y1="381" x2="504.7" y2="407.5" stroke="#000" stroke-width="0.6" />
<rect x="535.8" y="368.5" width="5.6" height="20.8" fill="none" stroke="#000" stroke-width="0.6"/>
<rect x="543.7" y="368.5" width="15.6" height="20.8" fill="none" stroke="#000" stroke-width="0.7"/>
<rect x="562.2" y="368.5" width="6" height="20.8" fill="none" stroke="#000" stroke-width="0.6"/>
<rect x="545.9" y="361.8" width="12.300000000000068" height="5.599999999999966" fill="none" stroke="#000" stroke-width="0.6"/>
<line x1="545.9" y1="361.8" x2="558.2" y2="367.4" stroke="#000" stroke-width="0.45" />
<line x1="545.9" y1="367.4" x2="558.2" y2="361.8" stroke="#000" stroke-width="0.45" />
<circle cx="551.9" cy="378.1" r="2.6" fill="none" stroke="#000" stroke-width="0.7"/>
<line x1="548.5" y1="378.1" x2="555.3" y2="378.1" stroke="#000" stroke-width="0.5" />
<line x1="551.9" y1="374.7" x2="551.9" y2="381.50000000000006" stroke="#000" stroke-width="0.5" />
<line x1="551.9" y1="381" x2="551.9" y2="407.5" stroke="#000" stroke-width="0.6" />
<rect x="582.6999999999999" y="368.5" width="5.6" height="20.8" fill="none" stroke="#000" stroke-width="0.6"/>
<rect x="590.6" y="368.5" width="15.6" height="20.8" fill="none" stroke="#000" stroke-width="0.7"/>
<rect x="609.1" y="368.5" width="6" height="20.8" fill="none" stroke="#000" stroke-width="0.6"/>
<rect x="592.8" y="361.8" width="12.300000000000068" height="5.599999999999966" fill="none" stroke="#000" stroke-width="0.6"/>
<line x1="592.8" y1="361.8" x2="605.1" y2="367.4" stroke="#000" stroke-width="0.45" />
<line x1="592.8" y1="367.4" x2="605.1" y2="361.8" stroke="#000" stroke-width="0.45" />
<circle cx="598.8" cy="378.1" r="2.6" fill="none" stroke="#000" stroke-width="0.7"/>
<line x1="595.4" y1="378.1" x2="602.1999999999999" y2="378.1" stroke="#000" stroke-width="0.5" />
<line x1="598.8" y1="374.7" x2="598.8" y2="381.50000000000006" stroke="#000" stroke-width="0.5" />
<line x1="598.8" y1="381" x2="598.8" y2="407.5" stroke="#000" stroke-width="0.6" />
<rect x="459.1" y="368.7" width="17.799999999999955" height="10.900000000000034" fill="none" stroke="#000" stroke-width="0.7"/>
<line x1="459.1" y1="368.7" x2="476.9" y2="379.6" stroke="#000" stroke-width="0.45" />
<line x1="459.1" y1="379.6" x2="476.9" y2="368.7" stroke="#000" stroke-width="0.45" />
<line x1="326.2" y1="375" x2="326.2" y2="397.6" stroke="#000" stroke-width="0.6" />
<text x="323.5" y="383.5" font-size="4.2" text-anchor="middle" fill="#000" transform="rotate(-90 323.5 383.5)" >675</text>
<line x1="336.2" y1="405.9" x2="621" y2="405.9" stroke="#000" stroke-width="0.6" />
<line x1="336.2" y1="404" x2="336.2" y2="407.8" stroke="#000" stroke-width="0.6" />
<line x1="384.6" y1="404" x2="384.6" y2="407.8" stroke="#000" stroke-width="0.6" />
<line x1="431.5" y1="404" x2="431.5" y2="407.8" stroke="#000" stroke-width="0.6" />
<line x1="463.5" y1="404" x2="463.5" y2="407.8" stroke="#000" stroke-width="0.6" />
<line x1="504.3" y1="404" x2="504.3" y2="407.8" stroke="#000" stroke-width="0.6" />
<line x1="551.4" y1="404" x2="551.4" y2="407.8" stroke="#000" stroke-width="0.6" />
<line x1="598.1" y1="404" x2="598.1" y2="407.8" stroke="#000" stroke-width="0.6" />
<line x1="621" y1="404" x2="621" y2="407.8" stroke="#000" stroke-width="0.6" />
<text x="359.3" y="404.2" font-size="5" text-anchor="middle" fill="#000" >2450</text>
<text x="407.4" y="404.2" font-size="5" text-anchor="middle" fill="#000" >2475</text>
<text x="467" y="404.2" font-size="5" text-anchor="middle" fill="#000" >3175</text>
<text x="527.5" y="404.2" font-size="5" text-anchor="middle" fill="#000" >2400</text>
<text x="573.7" y="404.2" font-size="5" text-anchor="middle" fill="#000" >2400</text>
<text x="609.2" y="404.2" font-size="5" text-anchor="middle" fill="#000" >1150</text>
<line x1="348" y1="347.2" x2="449.9" y2="347.2" stroke="#000" stroke-width="0.6" />
<line x1="438.7" y1="345" x2="438.7" y2="354" stroke="#000" stroke-width="0.6" />
<rect x="13.8" y="480.9" width="211.3" height="66.5" fill="none" stroke="#000" stroke-width="0.9"/>
<line x1="13.8" y1="488.3" x2="154.4" y2="488.3" stroke="#000" stroke-width="0.6" />
<line x1="13.8" y1="489.2" x2="154.4" y2="489.2" stroke="#999" stroke-width="0.6" />
<line x1="13.8" y1="496.9" x2="154.4" y2="496.9" stroke="#000" stroke-width="0.6" />
<line x1="13.8" y1="497.79999999999995" x2="154.4" y2="497.79999999999995" stroke="#999" stroke-width="0.6" />
<line x1="13.8" y1="505.5" x2="154.4" y2="505.5" stroke="#000" stroke-width="0.6" />
<line x1="13.8" y1="506.4" x2="154.4" y2="506.4" stroke="#999" stroke-width="0.6" />
<line x1="13.8" y1="513.6" x2="154.4" y2="513.6" stroke="#000" stroke-width="0.6" />
<line x1="13.8" y1="514.5" x2="154.4" y2="514.5" stroke="#999" stroke-width="0.6" />
<line x1="13.8" y1="521.6" x2="154.4" y2="521.6" stroke="#000" stroke-width="0.6" />
<line x1="13.8" y1="522.5" x2="154.4" y2="522.5" stroke="#999" stroke-width="0.6" />
<line x1="13.8" y1="529.4" x2="154.4" y2="529.4" stroke="#000" stroke-width="0.6" />
<line x1="13.8" y1="530.3" x2="154.4" y2="530.3" stroke="#999" stroke-width="0.6" />
<line x1="13.8" y1="537.0" x2="154.4" y2="537.0" stroke="#000" stroke-width="0.6" />
<line x1="13.8" y1="537.9" x2="154.4" y2="537.9" stroke="#999" stroke-width="0.6" />
<line x1="84.4" y1="543" x2="154.4" y2="543" stroke="#000" stroke-width="0.6" />
<line x1="154.4" y1="488.7" x2="225.1" y2="488.7" stroke="#000" stroke-width="0.6" />
<line x1="154.4" y1="489.59999999999997" x2="225.1" y2="489.59999999999997" stroke="#999" stroke-width="0.6" />
<line x1="154.4" y1="496.9" x2="225.1" y2="496.9" stroke="#000" stroke-width="0.6" />
<line x1="154.4" y1="497.79999999999995" x2="225.1" y2="497.79999999999995" stroke="#999" stroke-width="0.6" />
<line x1="154.4" y1="505.1" x2="225.1" y2="505.1" stroke="#000" stroke-width="0.6" />
<line x1="154.4" y1="506.0" x2="225.1" y2="506.0" stroke="#999" stroke-width="0.6" />
<line x1="154.4" y1="513.4" x2="225.1" y2="513.4" stroke="#000" stroke-width="0.6" />
<line x1="154.4" y1="514.3" x2="225.1" y2="514.3" stroke="#999" stroke-width="0.6" />
<line x1="154.4" y1="520.8" x2="225.1" y2="520.8" stroke="#000" stroke-width="0.6" />
<line x1="154.4" y1="521.6999999999999" x2="225.1" y2="521.6999999999999" stroke="#999" stroke-width="0.6" />
<line x1="154.4" y1="528.7" x2="225.1" y2="528.7" stroke="#000" stroke-width="0.6" />
<line x1="154.4" y1="529.6" x2="225.1" y2="529.6" stroke="#999" stroke-width="0.6" />
<line x1="154.4" y1="536.4" x2="225.1" y2="536.4" stroke="#000" stroke-width="0.6" />
<line x1="154.4" y1="537.3" x2="225.1" y2="537.3" stroke="#999" stroke-width="0.6" />
<line x1="34.5" y1="488.3" x2="34.5" y2="547.4" stroke="#000" stroke-width="0.6" />
<line x1="55.7" y1="488.3" x2="55.7" y2="547.4" stroke="#000" stroke-width="0.6" />
<line x1="69.3" y1="488.3" x2="69.3" y2="547.4" stroke="#000" stroke-width="0.6" />
<line x1="84.4" y1="480.9" x2="84.4" y2="547.4" stroke="#000" stroke-width="1.0" />
<line x1="85.30000000000001" y1="480.9" x2="85.30000000000001" y2="547.4" stroke="#888" stroke-width="0.5" />
<line x1="104.6" y1="488.3" x2="104.6" y2="547.4" stroke="#000" stroke-width="0.6" />
<line x1="125.6" y1="488.3" x2="125.6" y2="547.4" stroke="#000" stroke-width="0.6" />
<line x1="139.6" y1="488.3" x2="139.6" y2="547.4" stroke="#000" stroke-width="0.6" />
<line x1="154.4" y1="480.9" x2="154.4" y2="547.4" stroke="#000" stroke-width="1.0" />
<line x1="155.3" y1="480.9" x2="155.3" y2="547.4" stroke="#888" stroke-width="0.5" />
<line x1="175.5" y1="488.3" x2="175.5" y2="547.4" stroke="#000" stroke-width="0.6" />
<line x1="196.3" y1="488.3" x2="196.3" y2="547.4" stroke="#000" stroke-width="0.6" />
<line x1="210.7" y1="488.3" x2="210.7" y2="547.4" stroke="#000" stroke-width="0.6" />
<rect x="22.2" y="483.4" width="3.6" height="2.2" fill="#3a3a3a"/>
<rect x="40.2" y="483.4" width="3.6" height="2.2" fill="#3a3a3a"/>
<rect x="58.2" y="483.4" width="3.6" height="2.2" fill="#3a3a3a"/>
<rect x="74.2" y="483.4" width="3.6" height="2.2" fill="#3a3a3a"/>
<rect x="92.2" y="483.4" width="3.6" height="2.2" fill="#3a3a3a"/>
<rect x="113.2" y="483.4" width="3.6" height="2.2" fill="#3a3a3a"/>
<rect x="130.2" y="483.4" width="3.6" height="2.2" fill="#3a3a3a"/>
<rect x="144.2" y="483.4" width="3.6" height="2.2" fill="#3a3a3a"/>
<rect x="160.2" y="483.4" width="3.6" height="2.2" fill="#3a3a3a"/>
<rect x="180.6" y="483.4" width="3.6" height="2.2" fill="#3a3a3a"/>
<rect x="198.2" y="483.4" width="3.6" height="2.2" fill="#3a3a3a"/>
<rect x="213.5" y="483.4" width="3.6" height="2.2" fill="#3a3a3a"/>
<rect x="42.0" y="492.0" width="4.9" height="2.4" fill="#444"/>
<rect x="61.0" y="492.0" width="2.9" height="2.4" fill="#444"/>
<rect x="75.0" y="492.0" width="3.5" height="2.4" fill="#444"/>
<rect x="111.5" y="492.0" width="6.0" height="2.4" fill="#444"/>
<rect x="144.5" y="491.0" width="5.1" height="4.5" fill="#444"/>
<rect x="42.3" y="500.6" width="4.4" height="2.4" fill="#444"/>
<rect x="61.4" y="500.6" width="2.1" height="2.4" fill="#444"/>
<rect x="74.6" y="500.6" width="4.5" height="2.4" fill="#444"/>
<rect x="112.0" y="500.6" width="5.0" height="2.4" fill="#444"/>
<rect x="145.0" y="499.6" width="4.1" height="4.5" fill="#444"/>
<rect x="40.9" y="509.0" width="7.2" height="2.4" fill="#444"/>
<rect x="61.1" y="509.0" width="2.8" height="2.4" fill="#444"/>
<rect x="74.6" y="509.0" width="4.5" height="2.4" fill="#444"/>
<rect x="111.7" y="509.0" width="5.6" height="2.4" fill="#444"/>
<rect x="144.5" y="507.9" width="5.1" height="4.5" fill="#444"/>
<rect x="42.2" y="517.0" width="4.7" height="2.4" fill="#444"/>
<rect x="61.0" y="517.0" width="3.1" height="2.4" fill="#444"/>
<rect x="74.5" y="517.0" width="4.5" height="2.4" fill="#444"/>
<rect x="111.6" y="517.0" width="5.8" height="2.4" fill="#444"/>
<rect x="144.3" y="516.0" width="5.4" height="4.5" fill="#444"/>
<rect x="41.4" y="524.9" width="6.2" height="2.4" fill="#444"/>
<rect x="61.4" y="524.9" width="2.2" height="2.4" fill="#444"/>
<rect x="74.6" y="524.9" width="4.3" height="2.4" fill="#444"/>
<rect x="111.5" y="524.9" width="6.0" height="2.4" fill="#444"/>
<rect x="144.9" y="523.9" width="4.3" height="4.5" fill="#444"/>
<rect x="42.4" y="532.6" width="4.3" height="2.4" fill="#444"/>
<rect x="60.8" y="532.6" width="3.4" height="2.4" fill="#444"/>
<rect x="74.9" y="532.6" width="3.7" height="2.4" fill="#444"/>
<rect x="111.3" y="532.6" width="6.4" height="2.4" fill="#444"/>
<rect x="144.2" y="531.6" width="5.7" height="4.5" fill="#444"/>
<rect x="41.3" y="541.6" width="6.3" height="2.4" fill="#444"/>
<rect x="60.8" y="541.6" width="3.5" height="2.4" fill="#444"/>
<rect x="75.0" y="541.6" width="3.6" height="2.4" fill="#444"/>
<rect x="111.2" y="541.6" width="6.6" height="2.4" fill="#444"/>
<rect x="144.7" y="540.6" width="4.6" height="4.5" fill="#444"/>
<rect x="130" y="491.5" width="3.5" height="2.2" fill="#444"/>
<rect x="182.0" y="492.2" width="7" height="2.4" fill="#444"/>
<rect x="215.7" y="491.1" width="4.2" height="4.6" fill="#444"/>
<rect x="182.0" y="500.4" width="7" height="2.4" fill="#444"/>
<rect x="215.7" y="499.3" width="4.2" height="4.6" fill="#444"/>
<rect x="182.0" y="508.7" width="7" height="2.4" fill="#444"/>
<rect x="215.7" y="507.6" width="4.2" height="4.6" fill="#444"/>
<rect x="182.0" y="516.5" width="7" height="2.4" fill="#444"/>
<rect x="215.7" y="515.4" width="4.2" height="4.6" fill="#444"/>
<rect x="182.0" y="524.1" width="7" height="2.4" fill="#444"/>
<rect x="215.7" y="523.1" width="4.2" height="4.6" fill="#444"/>
<rect x="182.0" y="531.9" width="7" height="2.4" fill="#444"/>
<rect x="215.7" y="530.9" width="4.2" height="4.6" fill="#444"/>
<circle cx="23.5" cy="492.8" r="1.8" fill="none" stroke="#000" stroke-width="0.7"/>
<line x1="21.3" y1="492.8" x2="25.7" y2="492.8" stroke="#000" stroke-width="0.5" />
<line x1="23.5" y1="490.6" x2="23.5" y2="495" stroke="#000" stroke-width="0.5" />
<path d="M26.5,491.5 L27.5,492.8 L26.5,494" fill="none" stroke="#000" stroke-width="0.6"/>
<circle cx="23.5" cy="501.2" r="2.3" fill="#555" stroke="#000" stroke-width="0.8"/>
<circle cx="23.5" cy="501.2" r="1" fill="#fff" stroke="#000" stroke-width="0"/>
<path d="M26.8,500 L27.6,501.2 L26.8,502.4" fill="none" stroke="#000" stroke-width="0.6"/>
<line x1="23.5" y1="508" x2="23.5" y2="511.2" stroke="#000" stroke-width="0.8" />
<line x1="22" y1="509.6" x2="25" y2="509.6" stroke="#000" stroke-width="0.8" />
<rect x="22.6" y="516" width="1.8" height="3.2" fill="#000"/>
<circle cx="23.5" cy="525.5" r="1.6" fill="#000" stroke="#000" stroke-width="0"/>
<line x1="23.5" y1="523" x2="23.5" y2="528" stroke="#000" stroke-width="0.7" />
<path d="M22.5,531.8 L22.5,535 L24.5,535" fill="none" stroke="#000" stroke-width="0.6"/>
<rect x="20.1" y="537.8" width="8.8" height="8" fill="#000"/>
<rect x="91.5" y="490.6" width="4" height="4.4" fill="none" stroke="#000" stroke-width="0.7"/>
<line x1="91.5" y1="492.8" x2="95.5" y2="492.8" stroke="#000" stroke-width="0.5" />
<line x1="93.5" y1="490.6" x2="93.5" y2="495.0" stroke="#000" stroke-width="0.5" />
<circle cx="93.5" cy="501.2" r="2.2" fill="#666" stroke="#000" stroke-width="0.7"/>
<circle cx="93.5" cy="501.2" r="0.8" fill="#fff" stroke="#000" stroke-width="0"/>
<circle cx="93.5" cy="509.6" r="2.2" fill="#666" stroke="#000" stroke-width="0.7"/>
<circle cx="93.5" cy="509.6" r="0.8" fill="#fff" stroke="#000" stroke-width="0"/>
<circle cx="93.5" cy="517.6" r="2.1" fill="none" stroke="#000" stroke-width="0.7"/>
<line x1="90.5" y1="517.6" x2="96.5" y2="517.6" stroke="#000" stroke-width="0.5" />
<line x1="93.5" y1="514.6" x2="93.5" y2="520.6" stroke="#000" stroke-width="0.5" />
<rect x="91.5" y="523.1" width="4" height="4.8" fill="none" stroke="#000" stroke-width="0.7"/>
<line x1="93.5" y1="523.1" x2="93.5" y2="527.9" stroke="#000" stroke-width="0.5" />
<line x1="93.5" y1="527.9" x2="93.5" y2="529.0" stroke="#000" stroke-width="0.5" />
<circle cx="93.5" cy="533.3" r="2.2" fill="none" stroke="#000" stroke-width="0.7"/>
<line x1="91.3" y1="533.3" x2="95.7" y2="533.3" stroke="#000" stroke-width="0.5" />
<line x1="93.5" y1="529.8" x2="93.5" y2="536.8" stroke="#000" stroke-width="0.5" />
<circle cx="93.5" cy="540.2" r="2.2" fill="none" stroke="#000" stroke-width="0.7"/>
<line x1="91.3" y1="540.2" x2="95.7" y2="540.2" stroke="#000" stroke-width="0.5" />
<line x1="93.5" y1="536.7" x2="93.5" y2="543.7" stroke="#000" stroke-width="0.5" />
<circle cx="164.8" cy="492.8" r="1.9" fill="none" stroke="#000" stroke-width="0.6"/>
<line x1="162.0" y1="492.8" x2="167.60000000000002" y2="492.8" stroke="#000" stroke-width="0.5" />
<line x1="164.8" y1="490.0" x2="164.8" y2="495.6" stroke="#000" stroke-width="0.5" />
<rect x="162.9" y="498.8" width="3.8" height="4.4" fill="none" stroke="#000" stroke-width="0.8"/>
<rect x="164.0" y="500.1" width="1.6" height="1.8" fill="#000"/>
<rect x="162.9" y="507.0" width="3.8" height="4.4" fill="none" stroke="#000" stroke-width="0.8"/>
<line x1="162.9" y1="509.2" x2="166.70000000000002" y2="509.2" stroke="#000" stroke-width="0.6" />
<line x1="164.8" y1="507.0" x2="164.8" y2="511.4" stroke="#000" stroke-width="0.6" />
<circle cx="164.8" cy="517.1" r="1.9" fill="none" stroke="#000" stroke-width="0.6"/>
<line x1="161.4" y1="517.1" x2="168.20000000000002" y2="517.1" stroke="#000" stroke-width="0.5" />
<line x1="164.8" y1="514.5" x2="164.8" y2="519.7" stroke="#000" stroke-width="0.5" />
<path d="M161.8,523.0 L167.8,523.0 L166.4,526.5999999999999 L163.20000000000002,526.5999999999999 Z" fill="none" stroke="#000" stroke-width="0.6"/>
<circle cx="164.8" cy="532.6" r="2.2" fill="#111" stroke="#000" stroke-width="0"/>
<circle cx="164.8" cy="532.6" r="0.9" fill="#888" stroke="#000" stroke-width="0"/>
<text x="351.6" y="525.8" font-size="7.8" textLength="40" lengthAdjust="spacingAndGlyphs" fill="#111">REFLECTED</text>
<text x="400" y="525.8" font-size="7.8" textLength="26.3" lengthAdjust="spacingAndGlyphs" fill="#111">CEILING</text>
<text x="438.5" y="525.8" font-size="7.8" textLength="18.3" lengthAdjust="spacingAndGlyphs" fill="#111">PLAN</text>
<line x1="351.6" y1="526.6" x2="488.4" y2="526.6" stroke="#666" stroke-width="1.2" />
<line x1="351.6" y1="528.3" x2="488.4" y2="528.3" stroke="#888" stroke-width="0.6" />
<rect x="351.6" y="531" width="21" height="3.4" fill="#555"/>
<rect x="355.6" y="531" width="0.6" height="3.4" fill="#ccc"/>
<rect x="359.8" y="531" width="0.6" height="3.4" fill="#ccc"/>
<rect x="364" y="531" width="0.6" height="3.4" fill="#ccc"/>
<rect x="368.2" y="531" width="0.6" height="3.4" fill="#ccc"/>
<text x="456.8" y="534.4" font-size="4.8" textLength="30.6" lengthAdjust="spacing" fill="#000">SCALE&#160;&#160;100</text>
<polygon points="258.1,138.2 261.9,140.2 231.7,205.5 227.9,203.2" fill="none" stroke="#000" stroke-width="0.7"/>
<line x1="251.9" y1="149" x2="232.5" y2="190.8" stroke="#000" stroke-width="1.6" />
<circle cx="254.2" cy="164.5" r="1.1" fill="none" stroke="#000" stroke-width="0.5"/>
<circle cx="251.9" cy="169.9" r="1.1" fill="none" stroke="#000" stroke-width="0.5"/>
<circle cx="248.8" cy="175.3" r="1.1" fill="none" stroke="#000" stroke-width="0.5"/>
<circle cx="246.5" cy="180.5" r="1.1" fill="none" stroke="#000" stroke-width="0.5"/>
<polygon points="237.2,152.9 247.2,156.7 243.4,165.3 234.1,161.4" fill="none" stroke="#000" stroke-width="0.7"/>
<line x1="237.2" y1="152.9" x2="239" y2="149.5" stroke="#000" stroke-width="0.6" />
<line x1="247.2" y1="156.7" x2="249" y2="153.2" stroke="#000" stroke-width="0.6" />
<polygon points="228.7,169.9 238.7,174.6 234.1,183.9 225.6,180" fill="none" stroke="#000" stroke-width="0.7"/>
<line x1="228.7" y1="169.9" x2="230.5" y2="166.5" stroke="#000" stroke-width="0.6" />
<line x1="238.7" y1="174.6" x2="240.5" y2="171" stroke="#000" stroke-width="0.6" />
<circle cx="231.7" cy="156" r="3.0" fill="#222" stroke="#000" stroke-width="0.5"/>
<circle cx="231.7" cy="156" r="1.0" fill="#fff" stroke="#000" stroke-width="0"/>
<circle cx="224.8" cy="171.5" r="3.0" fill="#222" stroke="#000" stroke-width="0.5"/>
<circle cx="224.8" cy="171.5" r="1.0" fill="#fff" stroke="#000" stroke-width="0"/>
<circle cx="255.5" cy="295.5" r="2.6" fill="none" stroke="#000" stroke-width="0.6"/>
<line x1="252.1" y1="295.5" x2="258.90000000000003" y2="295.5" stroke="#000" stroke-width="0.5" />
<line x1="255.5" y1="292.09999999999997" x2="255.5" y2="298.90000000000003" stroke="#000" stroke-width="0.5" />
<line x1="262.6" y1="295.5" x2="266.6" y2="295.5" stroke="#000" stroke-width="0.6" />
<text x="262" y="325" font-size="4.6" text-anchor="middle" fill="#000" transform="rotate(-90 262 325)" >900</text>
<line x1="255" y1="335" x2="262" y2="328" stroke="#000" stroke-width="0.5" />
</svg></body></html>
